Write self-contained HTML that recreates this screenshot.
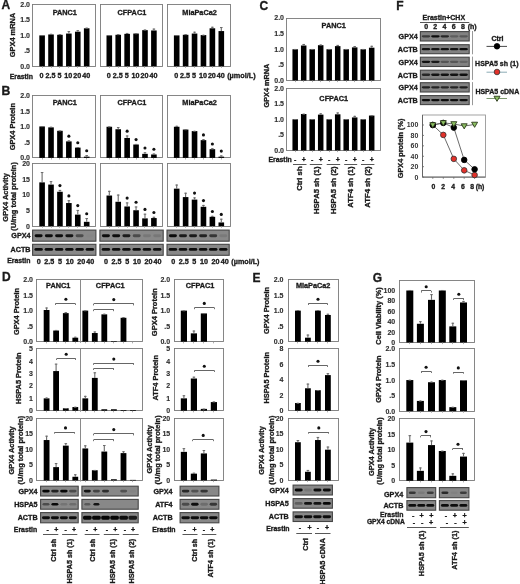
<!DOCTYPE html>
<html><head><meta charset="utf-8"><title>Figure</title>
<style>
html,body{margin:0;padding:0;background:#fff}
svg{display:block;filter:blur(0.35px);font-family:"Liberation Sans",Arial,Helvetica,sans-serif}
</style></head><body>
<svg width="520" height="584" viewBox="0 0 520 584">
<defs><filter id="bl" x="-20%" y="-50%" width="140%" height="200%"><feGaussianBlur stdDeviation="0.5"/></filter></defs>
<rect x="0" y="0" width="520" height="584" fill="#fff"/>
<text x="5.85" y="9.06" font-size="12" text-anchor="middle" fill="#1a1a1a" font-weight="bold" stroke="#1a1a1a" stroke-width="0.32">A</text>
<text transform="translate(12.3,35) rotate(-90)" x="0" y="2.63" font-size="7.4" text-anchor="middle" fill="#1a1a1a" font-weight="bold" stroke="#1a1a1a" stroke-width="0.32">GPX4 mRNA</text>
<text x="30" y="6.98" font-size="7" text-anchor="end" fill="#2e2e2e" font-weight="bold" stroke="#2e2e2e" stroke-width="0.12">2.0</text>
<text x="30" y="22.43" font-size="7" text-anchor="end" fill="#2e2e2e" font-weight="bold" stroke="#2e2e2e" stroke-width="0.12">1.5</text>
<text x="30" y="37.88" font-size="7" text-anchor="end" fill="#2e2e2e" font-weight="bold" stroke="#2e2e2e" stroke-width="0.12">1.0</text>
<text x="30" y="53.33" font-size="7" text-anchor="end" fill="#2e2e2e" font-weight="bold" stroke="#2e2e2e" stroke-width="0.12">.5</text>
<text x="30" y="68.78" font-size="7" text-anchor="end" fill="#2e2e2e" font-weight="bold" stroke="#2e2e2e" stroke-width="0.12">0.0</text>
<text x="33" y="78.65" font-size="6.9" text-anchor="end" fill="#1a1a1a" font-weight="bold" stroke="#1a1a1a" stroke-width="0.32">Erastin</text>
<rect x="32.5" y="4.5" width="63" height="62" fill="none" stroke="#7a7a7a" stroke-width="0.9"/>
<rect x="39.3" y="35.4" width="5.6" height="30.9" fill="#000"/>
<line x1="42.1" y1="35.09" x2="42.1" y2="35.4" stroke="#6a6a6a" stroke-width="1.1"/>
<line x1="40.8" y1="35.59" x2="43.4" y2="35.59" stroke="#6a6a6a" stroke-width="1"/>
<rect x="48.22" y="34.47" width="5.6" height="31.83" fill="#000"/>
<line x1="51.02" y1="33.85" x2="51.02" y2="34.47" stroke="#6a6a6a" stroke-width="1.1"/>
<line x1="49.72" y1="34.35" x2="52.32" y2="34.35" stroke="#6a6a6a" stroke-width="1"/>
<rect x="57.14" y="34.78" width="5.6" height="31.52" fill="#000"/>
<line x1="59.94" y1="34.16" x2="59.94" y2="34.78" stroke="#6a6a6a" stroke-width="1.1"/>
<line x1="58.64" y1="34.66" x2="61.24" y2="34.66" stroke="#6a6a6a" stroke-width="1"/>
<rect x="66.06" y="33.55" width="5.6" height="32.75" fill="#000"/>
<line x1="68.86" y1="31.07" x2="68.86" y2="33.55" stroke="#6a6a6a" stroke-width="1.1"/>
<line x1="67.56" y1="31.57" x2="70.16" y2="31.57" stroke="#6a6a6a" stroke-width="1"/>
<rect x="74.98" y="31.69" width="5.6" height="34.61" fill="#000"/>
<line x1="77.78" y1="30.15" x2="77.78" y2="31.69" stroke="#6a6a6a" stroke-width="1.1"/>
<line x1="76.48" y1="30.65" x2="79.08" y2="30.65" stroke="#6a6a6a" stroke-width="1"/>
<rect x="83.9" y="28.29" width="5.6" height="38.01" fill="#000"/>
<line x1="86.7" y1="27.67" x2="86.7" y2="28.29" stroke="#6a6a6a" stroke-width="1.1"/>
<line x1="85.4" y1="28.17" x2="88" y2="28.17" stroke="#6a6a6a" stroke-width="1"/>
<line x1="42.5" y1="66.3" x2="42.5" y2="67.9" stroke="#999" stroke-width="0.8"/>
<line x1="51.5" y1="66.3" x2="51.5" y2="67.9" stroke="#999" stroke-width="0.8"/>
<line x1="59.5" y1="66.3" x2="59.5" y2="67.9" stroke="#999" stroke-width="0.8"/>
<line x1="68.5" y1="66.3" x2="68.5" y2="67.9" stroke="#999" stroke-width="0.8"/>
<line x1="77.5" y1="66.3" x2="77.5" y2="67.9" stroke="#999" stroke-width="0.8"/>
<line x1="86.5" y1="66.3" x2="86.5" y2="67.9" stroke="#999" stroke-width="0.8"/>
<text x="64.75" y="14.79" font-size="7.3" text-anchor="middle" fill="#1a1a1a" font-weight="bold" stroke="#1a1a1a" stroke-width="0.32">PANC1</text>
<text x="41.6" y="78.46" font-size="7.2" text-anchor="middle" fill="#1a1a1a" font-weight="bold" stroke="#1a1a1a" stroke-width="0.32">0</text>
<text x="50.52" y="78.46" font-size="7.2" text-anchor="middle" fill="#1a1a1a" font-weight="bold" stroke="#1a1a1a" stroke-width="0.32">2.5</text>
<text x="59.44" y="78.46" font-size="7.2" text-anchor="middle" fill="#1a1a1a" font-weight="bold" stroke="#1a1a1a" stroke-width="0.32">5</text>
<text x="68.36" y="78.46" font-size="7.2" text-anchor="middle" fill="#1a1a1a" font-weight="bold" stroke="#1a1a1a" stroke-width="0.32">10</text>
<text x="77.28" y="78.46" font-size="7.2" text-anchor="middle" fill="#1a1a1a" font-weight="bold" stroke="#1a1a1a" stroke-width="0.32">20</text>
<text x="86.2" y="78.46" font-size="7.2" text-anchor="middle" fill="#1a1a1a" font-weight="bold" stroke="#1a1a1a" stroke-width="0.32">40</text>
<rect x="100.5" y="4.5" width="62" height="62" fill="none" stroke="#7a7a7a" stroke-width="0.9"/>
<rect x="106.5" y="35.4" width="5.6" height="30.9" fill="#000"/>
<line x1="109.3" y1="35.09" x2="109.3" y2="35.4" stroke="#6a6a6a" stroke-width="1.1"/>
<line x1="108" y1="35.59" x2="110.6" y2="35.59" stroke="#6a6a6a" stroke-width="1"/>
<rect x="115.42" y="34.78" width="5.6" height="31.52" fill="#000"/>
<line x1="118.22" y1="34.16" x2="118.22" y2="34.78" stroke="#6a6a6a" stroke-width="1.1"/>
<line x1="116.92" y1="34.66" x2="119.52" y2="34.66" stroke="#6a6a6a" stroke-width="1"/>
<rect x="124.34" y="33.85" width="5.6" height="32.45" fill="#000"/>
<line x1="127.14" y1="32.93" x2="127.14" y2="33.85" stroke="#6a6a6a" stroke-width="1.1"/>
<line x1="125.84" y1="33.43" x2="128.44" y2="33.43" stroke="#6a6a6a" stroke-width="1"/>
<rect x="133.26" y="33.55" width="5.6" height="32.75" fill="#000"/>
<line x1="136.06" y1="33.24" x2="136.06" y2="33.55" stroke="#6a6a6a" stroke-width="1.1"/>
<line x1="134.76" y1="33.74" x2="137.36" y2="33.74" stroke="#6a6a6a" stroke-width="1"/>
<rect x="142.18" y="30.15" width="5.6" height="36.15" fill="#000"/>
<line x1="144.98" y1="29.53" x2="144.98" y2="30.15" stroke="#6a6a6a" stroke-width="1.1"/>
<line x1="143.68" y1="30.03" x2="146.28" y2="30.03" stroke="#6a6a6a" stroke-width="1"/>
<rect x="151.1" y="30.46" width="5.6" height="35.84" fill="#000"/>
<line x1="153.9" y1="28.6" x2="153.9" y2="30.46" stroke="#6a6a6a" stroke-width="1.1"/>
<line x1="152.6" y1="29.1" x2="155.2" y2="29.1" stroke="#6a6a6a" stroke-width="1"/>
<line x1="109.5" y1="66.3" x2="109.5" y2="67.9" stroke="#999" stroke-width="0.8"/>
<line x1="118.5" y1="66.3" x2="118.5" y2="67.9" stroke="#999" stroke-width="0.8"/>
<line x1="127.5" y1="66.3" x2="127.5" y2="67.9" stroke="#999" stroke-width="0.8"/>
<line x1="136.5" y1="66.3" x2="136.5" y2="67.9" stroke="#999" stroke-width="0.8"/>
<line x1="144.5" y1="66.3" x2="144.5" y2="67.9" stroke="#999" stroke-width="0.8"/>
<line x1="153.5" y1="66.3" x2="153.5" y2="67.9" stroke="#999" stroke-width="0.8"/>
<text x="131.9" y="14.79" font-size="7.3" text-anchor="middle" fill="#1a1a1a" font-weight="bold" stroke="#1a1a1a" stroke-width="0.32">CFPAC1</text>
<text x="108.8" y="78.46" font-size="7.2" text-anchor="middle" fill="#1a1a1a" font-weight="bold" stroke="#1a1a1a" stroke-width="0.32">0</text>
<text x="117.72" y="78.46" font-size="7.2" text-anchor="middle" fill="#1a1a1a" font-weight="bold" stroke="#1a1a1a" stroke-width="0.32">2.5</text>
<text x="126.64" y="78.46" font-size="7.2" text-anchor="middle" fill="#1a1a1a" font-weight="bold" stroke="#1a1a1a" stroke-width="0.32">5</text>
<text x="135.56" y="78.46" font-size="7.2" text-anchor="middle" fill="#1a1a1a" font-weight="bold" stroke="#1a1a1a" stroke-width="0.32">10</text>
<text x="144.48" y="78.46" font-size="7.2" text-anchor="middle" fill="#1a1a1a" font-weight="bold" stroke="#1a1a1a" stroke-width="0.32">20</text>
<text x="153.4" y="78.46" font-size="7.2" text-anchor="middle" fill="#1a1a1a" font-weight="bold" stroke="#1a1a1a" stroke-width="0.32">40</text>
<rect x="167.5" y="4.5" width="63" height="62" fill="none" stroke="#7a7a7a" stroke-width="0.9"/>
<rect x="173.9" y="35.4" width="5.6" height="30.9" fill="#000"/>
<line x1="176.7" y1="35.09" x2="176.7" y2="35.4" stroke="#6a6a6a" stroke-width="1.1"/>
<line x1="175.4" y1="35.59" x2="178" y2="35.59" stroke="#6a6a6a" stroke-width="1"/>
<rect x="182.82" y="34.78" width="5.6" height="31.52" fill="#000"/>
<line x1="185.62" y1="34.16" x2="185.62" y2="34.78" stroke="#6a6a6a" stroke-width="1.1"/>
<line x1="184.32" y1="34.66" x2="186.92" y2="34.66" stroke="#6a6a6a" stroke-width="1"/>
<rect x="191.74" y="33.55" width="5.6" height="32.75" fill="#000"/>
<line x1="194.54" y1="31.69" x2="194.54" y2="33.55" stroke="#6a6a6a" stroke-width="1.1"/>
<line x1="193.24" y1="32.19" x2="195.84" y2="32.19" stroke="#6a6a6a" stroke-width="1"/>
<rect x="200.66" y="35.09" width="5.6" height="31.21" fill="#000"/>
<line x1="203.46" y1="34.78" x2="203.46" y2="35.09" stroke="#6a6a6a" stroke-width="1.1"/>
<line x1="202.16" y1="35.28" x2="204.76" y2="35.28" stroke="#6a6a6a" stroke-width="1"/>
<rect x="209.58" y="28.29" width="5.6" height="38.01" fill="#000"/>
<line x1="212.38" y1="26.75" x2="212.38" y2="28.29" stroke="#6a6a6a" stroke-width="1.1"/>
<line x1="211.08" y1="27.25" x2="213.68" y2="27.25" stroke="#6a6a6a" stroke-width="1"/>
<rect x="218.5" y="31.07" width="5.6" height="35.23" fill="#000"/>
<line x1="221.3" y1="27.06" x2="221.3" y2="31.07" stroke="#6a6a6a" stroke-width="1.1"/>
<line x1="220" y1="27.56" x2="222.6" y2="27.56" stroke="#6a6a6a" stroke-width="1"/>
<line x1="176.5" y1="66.3" x2="176.5" y2="67.9" stroke="#999" stroke-width="0.8"/>
<line x1="185.5" y1="66.3" x2="185.5" y2="67.9" stroke="#999" stroke-width="0.8"/>
<line x1="194.5" y1="66.3" x2="194.5" y2="67.9" stroke="#999" stroke-width="0.8"/>
<line x1="203.5" y1="66.3" x2="203.5" y2="67.9" stroke="#999" stroke-width="0.8"/>
<line x1="212.5" y1="66.3" x2="212.5" y2="67.9" stroke="#999" stroke-width="0.8"/>
<line x1="221.5" y1="66.3" x2="221.5" y2="67.9" stroke="#999" stroke-width="0.8"/>
<text x="199.55" y="14.79" font-size="7.3" text-anchor="middle" fill="#1a1a1a" font-weight="bold" stroke="#1a1a1a" stroke-width="0.32">MiaPaCa2</text>
<text x="176.2" y="78.46" font-size="7.2" text-anchor="middle" fill="#1a1a1a" font-weight="bold" stroke="#1a1a1a" stroke-width="0.32">0</text>
<text x="185.12" y="78.46" font-size="7.2" text-anchor="middle" fill="#1a1a1a" font-weight="bold" stroke="#1a1a1a" stroke-width="0.32">2.5</text>
<text x="194.04" y="78.46" font-size="7.2" text-anchor="middle" fill="#1a1a1a" font-weight="bold" stroke="#1a1a1a" stroke-width="0.32">5</text>
<text x="202.96" y="78.46" font-size="7.2" text-anchor="middle" fill="#1a1a1a" font-weight="bold" stroke="#1a1a1a" stroke-width="0.32">10</text>
<text x="211.88" y="78.46" font-size="7.2" text-anchor="middle" fill="#1a1a1a" font-weight="bold" stroke="#1a1a1a" stroke-width="0.32">20</text>
<text x="220.8" y="78.46" font-size="7.2" text-anchor="middle" fill="#1a1a1a" font-weight="bold" stroke="#1a1a1a" stroke-width="0.32">40</text>
<text x="241.4" y="78.49" font-size="7.3" text-anchor="middle" fill="#1a1a1a" font-weight="bold" stroke="#1a1a1a" stroke-width="0.32">(&micro;mol/L)</text>
<text x="5.85" y="95.13" font-size="12.2" text-anchor="middle" fill="#1a1a1a" font-weight="bold" stroke="#1a1a1a" stroke-width="0.32">B</text>
<text transform="translate(12.3,126.7) rotate(-90)" x="0" y="2.63" font-size="7.4" text-anchor="middle" fill="#1a1a1a" font-weight="bold" stroke="#1a1a1a" stroke-width="0.32">GPX4 Protein</text>
<text transform="translate(4.9,197.4) rotate(-90)" x="0" y="2.64" font-size="7.45" text-anchor="middle" fill="#1a1a1a" font-weight="bold" stroke="#1a1a1a" stroke-width="0.32">GPX4 Activity</text>
<text transform="translate(13,196.4) rotate(-90)" x="0" y="2.64" font-size="7.45" text-anchor="middle" fill="#1a1a1a" font-weight="bold" stroke="#1a1a1a" stroke-width="0.32">(U/mg total protein)</text>
<text x="30" y="98.08" font-size="7" text-anchor="end" fill="#2e2e2e" font-weight="bold" stroke="#2e2e2e" stroke-width="0.12">2.0</text>
<text x="30" y="113.66" font-size="7" text-anchor="end" fill="#2e2e2e" font-weight="bold" stroke="#2e2e2e" stroke-width="0.12">1.5</text>
<text x="30" y="129.24" font-size="7" text-anchor="end" fill="#2e2e2e" font-weight="bold" stroke="#2e2e2e" stroke-width="0.12">1.0</text>
<text x="30" y="144.81" font-size="7" text-anchor="end" fill="#2e2e2e" font-weight="bold" stroke="#2e2e2e" stroke-width="0.12">.5</text>
<text x="30" y="160.39" font-size="7" text-anchor="end" fill="#2e2e2e" font-weight="bold" stroke="#2e2e2e" stroke-width="0.12">0.0</text>
<text x="30" y="166.09" font-size="7" text-anchor="end" fill="#2e2e2e" font-weight="bold" stroke="#2e2e2e" stroke-width="0.12">20</text>
<text x="30" y="181.74" font-size="7" text-anchor="end" fill="#2e2e2e" font-weight="bold" stroke="#2e2e2e" stroke-width="0.12">15</text>
<text x="30" y="197.38" font-size="7" text-anchor="end" fill="#2e2e2e" font-weight="bold" stroke="#2e2e2e" stroke-width="0.12">10</text>
<text x="30" y="213.03" font-size="7" text-anchor="end" fill="#2e2e2e" font-weight="bold" stroke="#2e2e2e" stroke-width="0.12">5</text>
<text x="30" y="228.69" font-size="7" text-anchor="end" fill="#2e2e2e" font-weight="bold" stroke="#2e2e2e" stroke-width="0.12">0</text>
<text x="30.5" y="238.26" font-size="7.2" text-anchor="end" fill="#1a1a1a" font-weight="bold" stroke="#1a1a1a" stroke-width="0.32">GPX4</text>
<text x="30.5" y="252.36" font-size="7.2" text-anchor="end" fill="#1a1a1a" font-weight="bold" stroke="#1a1a1a" stroke-width="0.32">ACTB</text>
<text x="30.5" y="263.25" font-size="6.9" text-anchor="end" fill="#1a1a1a" font-weight="bold" stroke="#1a1a1a" stroke-width="0.32">Erastin</text>
<rect x="32.5" y="95.5" width="63" height="62" fill="none" stroke="#7a7a7a" stroke-width="0.9"/>
<rect x="32.5" y="163.5" width="63" height="63" fill="none" stroke="#7a7a7a" stroke-width="0.9"/>
<rect x="39.3" y="126.44" width="5.6" height="31.46" fill="#000"/>
<line x1="42.1" y1="126.13" x2="42.1" y2="126.44" stroke="#6a6a6a" stroke-width="1.1"/>
<line x1="40.8" y1="126.63" x2="43.4" y2="126.63" stroke="#6a6a6a" stroke-width="1"/>
<rect x="48.22" y="127.37" width="5.6" height="30.53" fill="#000"/>
<line x1="51.02" y1="126.75" x2="51.02" y2="127.37" stroke="#6a6a6a" stroke-width="1.1"/>
<line x1="49.72" y1="127.25" x2="52.32" y2="127.25" stroke="#6a6a6a" stroke-width="1"/>
<rect x="57.14" y="130.8" width="5.6" height="27.1" fill="#000"/>
<line x1="59.94" y1="130.49" x2="59.94" y2="130.8" stroke="#6a6a6a" stroke-width="1.1"/>
<line x1="58.64" y1="130.99" x2="61.24" y2="130.99" stroke="#6a6a6a" stroke-width="1"/>
<rect x="66.06" y="141.39" width="5.6" height="16.51" fill="#000"/>
<line x1="68.86" y1="140.46" x2="68.86" y2="141.39" stroke="#6a6a6a" stroke-width="1.1"/>
<line x1="67.56" y1="140.96" x2="70.16" y2="140.96" stroke="#6a6a6a" stroke-width="1"/>
<circle cx="68.86" cy="136.16" r="1.55" fill="#111"/>
<rect x="74.98" y="147.62" width="5.6" height="10.28" fill="#000"/>
<line x1="77.78" y1="147" x2="77.78" y2="147.62" stroke="#6a6a6a" stroke-width="1.1"/>
<line x1="76.48" y1="147.5" x2="79.08" y2="147.5" stroke="#6a6a6a" stroke-width="1"/>
<circle cx="77.78" cy="142.7" r="1.55" fill="#111"/>
<rect x="83.9" y="156.65" width="5.6" height="1.25" fill="#000"/>
<line x1="86.7" y1="155.1" x2="86.7" y2="156.65" stroke="#6a6a6a" stroke-width="1.1"/>
<line x1="85.4" y1="155.6" x2="88" y2="155.6" stroke="#6a6a6a" stroke-width="1"/>
<circle cx="86.7" cy="150.8" r="1.55" fill="#111"/>
<line x1="42.5" y1="157.9" x2="42.5" y2="159.5" stroke="#999" stroke-width="0.8"/>
<line x1="51.5" y1="157.9" x2="51.5" y2="159.5" stroke="#999" stroke-width="0.8"/>
<line x1="59.5" y1="157.9" x2="59.5" y2="159.5" stroke="#999" stroke-width="0.8"/>
<line x1="68.5" y1="157.9" x2="68.5" y2="159.5" stroke="#999" stroke-width="0.8"/>
<line x1="77.5" y1="157.9" x2="77.5" y2="159.5" stroke="#999" stroke-width="0.8"/>
<line x1="86.5" y1="157.9" x2="86.5" y2="159.5" stroke="#999" stroke-width="0.8"/>
<rect x="39.3" y="182.38" width="5.6" height="43.82" fill="#000"/>
<line x1="42.1" y1="172.05" x2="42.1" y2="182.38" stroke="#6a6a6a" stroke-width="1.1"/>
<line x1="40.8" y1="172.55" x2="43.4" y2="172.55" stroke="#6a6a6a" stroke-width="1"/>
<rect x="48.22" y="184.57" width="5.6" height="41.63" fill="#000"/>
<line x1="51.02" y1="181.13" x2="51.02" y2="184.57" stroke="#6a6a6a" stroke-width="1.1"/>
<line x1="49.72" y1="181.63" x2="52.32" y2="181.63" stroke="#6a6a6a" stroke-width="1"/>
<rect x="57.14" y="191.77" width="5.6" height="34.43" fill="#000"/>
<line x1="59.94" y1="189.89" x2="59.94" y2="191.77" stroke="#6a6a6a" stroke-width="1.1"/>
<line x1="58.64" y1="190.39" x2="61.24" y2="190.39" stroke="#6a6a6a" stroke-width="1"/>
<circle cx="59.94" cy="185.59" r="1.55" fill="#111"/>
<rect x="66.06" y="203.04" width="5.6" height="23.16" fill="#000"/>
<line x1="68.86" y1="200.22" x2="68.86" y2="203.04" stroke="#6a6a6a" stroke-width="1.1"/>
<line x1="67.56" y1="200.72" x2="70.16" y2="200.72" stroke="#6a6a6a" stroke-width="1"/>
<circle cx="68.86" cy="195.92" r="1.55" fill="#111"/>
<rect x="74.98" y="214.62" width="5.6" height="11.58" fill="#000"/>
<line x1="77.78" y1="209.92" x2="77.78" y2="214.62" stroke="#6a6a6a" stroke-width="1.1"/>
<line x1="76.48" y1="210.42" x2="79.08" y2="210.42" stroke="#6a6a6a" stroke-width="1"/>
<circle cx="77.78" cy="205.62" r="1.55" fill="#111"/>
<rect x="83.9" y="221.82" width="5.6" height="4.38" fill="#000"/>
<line x1="86.7" y1="218.06" x2="86.7" y2="221.82" stroke="#6a6a6a" stroke-width="1.1"/>
<line x1="85.4" y1="218.56" x2="88" y2="218.56" stroke="#6a6a6a" stroke-width="1"/>
<circle cx="86.7" cy="213.76" r="1.55" fill="#111"/>
<line x1="42.5" y1="226.2" x2="42.5" y2="227.8" stroke="#999" stroke-width="0.8"/>
<line x1="51.5" y1="226.2" x2="51.5" y2="227.8" stroke="#999" stroke-width="0.8"/>
<line x1="59.5" y1="226.2" x2="59.5" y2="227.8" stroke="#999" stroke-width="0.8"/>
<line x1="68.5" y1="226.2" x2="68.5" y2="227.8" stroke="#999" stroke-width="0.8"/>
<line x1="77.5" y1="226.2" x2="77.5" y2="227.8" stroke="#999" stroke-width="0.8"/>
<line x1="86.5" y1="226.2" x2="86.5" y2="227.8" stroke="#999" stroke-width="0.8"/>
<text x="64.75" y="105.39" font-size="7.3" text-anchor="middle" fill="#1a1a1a" font-weight="bold" stroke="#1a1a1a" stroke-width="0.32">PANC1</text>
<rect x="32.6" y="230.1" width="63.3" height="11.1" fill="#888888" stroke="#454545" stroke-width="1.1"/>
<g filter="url(#bl)"><rect x="34.62" y="234.35" width="8" height="2.9" rx="1.6" ry="1.45" fill="#050505" fill-opacity="0.92"/><rect x="44.88" y="234.35" width="8" height="2.9" rx="1.6" ry="1.45" fill="#050505" fill-opacity="0.9"/><rect x="55.12" y="234.35" width="8" height="2.9" rx="1.6" ry="1.45" fill="#050505" fill-opacity="0.9"/><rect x="65.38" y="234.35" width="8" height="2.9" rx="1.6" ry="1.45" fill="#050505" fill-opacity="0.85"/><rect x="75.62" y="234.35" width="8" height="2.9" rx="1.6" ry="1.45" fill="#050505" fill-opacity="0.45"/><rect x="85.88" y="234.35" width="8" height="2.9" rx="1.6" ry="1.45" fill="#050505" fill-opacity="0.02"/></g>
<rect x="32.6" y="244.3" width="63.3" height="11" fill="#888888" stroke="#454545" stroke-width="1.1"/>
<g filter="url(#bl)"><rect x="34.38" y="247.95" width="8.5" height="2.9" rx="1.6" ry="1.45" fill="#050505" fill-opacity="0.9"/><rect x="44.62" y="247.95" width="8.5" height="2.9" rx="1.6" ry="1.45" fill="#050505" fill-opacity="0.9"/><rect x="54.88" y="247.95" width="8.5" height="2.9" rx="1.6" ry="1.45" fill="#050505" fill-opacity="0.9"/><rect x="65.12" y="247.95" width="8.5" height="2.9" rx="1.6" ry="1.45" fill="#050505" fill-opacity="0.9"/><rect x="75.38" y="247.95" width="8.5" height="2.9" rx="1.6" ry="1.45" fill="#050505" fill-opacity="0.9"/><rect x="85.62" y="247.95" width="8.5" height="2.9" rx="1.6" ry="1.45" fill="#050505" fill-opacity="0.9"/></g>
<text x="38.8" y="263.56" font-size="7.2" text-anchor="middle" fill="#1a1a1a" font-weight="bold" stroke="#1a1a1a" stroke-width="0.32">0</text>
<text x="49.3" y="263.56" font-size="7.2" text-anchor="middle" fill="#1a1a1a" font-weight="bold" stroke="#1a1a1a" stroke-width="0.32">2.5</text>
<text x="59.9" y="263.56" font-size="7.2" text-anchor="middle" fill="#1a1a1a" font-weight="bold" stroke="#1a1a1a" stroke-width="0.32">5</text>
<text x="69.7" y="263.56" font-size="7.2" text-anchor="middle" fill="#1a1a1a" font-weight="bold" stroke="#1a1a1a" stroke-width="0.32">10</text>
<text x="81.2" y="263.56" font-size="7.2" text-anchor="middle" fill="#1a1a1a" font-weight="bold" stroke="#1a1a1a" stroke-width="0.32">20</text>
<text x="90.3" y="263.56" font-size="7.2" text-anchor="middle" fill="#1a1a1a" font-weight="bold" stroke="#1a1a1a" stroke-width="0.32">40</text>
<rect x="100.5" y="95.5" width="62" height="62" fill="none" stroke="#7a7a7a" stroke-width="0.9"/>
<rect x="100.5" y="163.5" width="62" height="63" fill="none" stroke="#7a7a7a" stroke-width="0.9"/>
<rect x="106.5" y="126.75" width="5.6" height="31.15" fill="#000"/>
<line x1="109.3" y1="126.44" x2="109.3" y2="126.75" stroke="#6a6a6a" stroke-width="1.1"/>
<line x1="108" y1="126.94" x2="110.6" y2="126.94" stroke="#6a6a6a" stroke-width="1"/>
<rect x="115.42" y="129.24" width="5.6" height="28.66" fill="#000"/>
<line x1="118.22" y1="127.06" x2="118.22" y2="129.24" stroke="#6a6a6a" stroke-width="1.1"/>
<line x1="116.92" y1="127.56" x2="119.52" y2="127.56" stroke="#6a6a6a" stroke-width="1"/>
<rect x="124.34" y="137.96" width="5.6" height="19.94" fill="#000"/>
<line x1="127.14" y1="135.47" x2="127.14" y2="137.96" stroke="#6a6a6a" stroke-width="1.1"/>
<line x1="125.84" y1="135.97" x2="128.44" y2="135.97" stroke="#6a6a6a" stroke-width="1"/>
<circle cx="127.14" cy="131.17" r="1.55" fill="#111"/>
<rect x="133.26" y="144.51" width="5.6" height="13.39" fill="#000"/>
<line x1="136.06" y1="143.88" x2="136.06" y2="144.51" stroke="#6a6a6a" stroke-width="1.1"/>
<line x1="134.76" y1="144.38" x2="137.36" y2="144.38" stroke="#6a6a6a" stroke-width="1"/>
<circle cx="136.06" cy="139.58" r="1.55" fill="#111"/>
<rect x="142.18" y="153.85" width="5.6" height="4.05" fill="#000"/>
<line x1="144.98" y1="152.29" x2="144.98" y2="153.85" stroke="#6a6a6a" stroke-width="1.1"/>
<line x1="143.68" y1="152.79" x2="146.28" y2="152.79" stroke="#6a6a6a" stroke-width="1"/>
<circle cx="144.98" cy="147.99" r="1.55" fill="#111"/>
<rect x="151.1" y="154.47" width="5.6" height="3.43" fill="#000"/>
<line x1="153.9" y1="153.54" x2="153.9" y2="154.47" stroke="#6a6a6a" stroke-width="1.1"/>
<line x1="152.6" y1="154.04" x2="155.2" y2="154.04" stroke="#6a6a6a" stroke-width="1"/>
<circle cx="153.9" cy="149.24" r="1.55" fill="#111"/>
<line x1="109.5" y1="157.9" x2="109.5" y2="159.5" stroke="#999" stroke-width="0.8"/>
<line x1="118.5" y1="157.9" x2="118.5" y2="159.5" stroke="#999" stroke-width="0.8"/>
<line x1="127.5" y1="157.9" x2="127.5" y2="159.5" stroke="#999" stroke-width="0.8"/>
<line x1="136.5" y1="157.9" x2="136.5" y2="159.5" stroke="#999" stroke-width="0.8"/>
<line x1="144.5" y1="157.9" x2="144.5" y2="159.5" stroke="#999" stroke-width="0.8"/>
<line x1="153.5" y1="157.9" x2="153.5" y2="159.5" stroke="#999" stroke-width="0.8"/>
<rect x="106.5" y="195.53" width="5.6" height="30.67" fill="#000"/>
<line x1="109.3" y1="190.83" x2="109.3" y2="195.53" stroke="#6a6a6a" stroke-width="1.1"/>
<line x1="108" y1="191.33" x2="110.6" y2="191.33" stroke="#6a6a6a" stroke-width="1"/>
<rect x="115.42" y="201.79" width="5.6" height="24.41" fill="#000"/>
<line x1="118.22" y1="194.59" x2="118.22" y2="201.79" stroke="#6a6a6a" stroke-width="1.1"/>
<line x1="116.92" y1="195.09" x2="119.52" y2="195.09" stroke="#6a6a6a" stroke-width="1"/>
<rect x="124.34" y="206.48" width="5.6" height="19.72" fill="#000"/>
<line x1="127.14" y1="202.41" x2="127.14" y2="206.48" stroke="#6a6a6a" stroke-width="1.1"/>
<line x1="125.84" y1="202.91" x2="128.44" y2="202.91" stroke="#6a6a6a" stroke-width="1"/>
<circle cx="127.14" cy="198.11" r="1.55" fill="#111"/>
<rect x="133.26" y="210.24" width="5.6" height="15.96" fill="#000"/>
<line x1="136.06" y1="206.48" x2="136.06" y2="210.24" stroke="#6a6a6a" stroke-width="1.1"/>
<line x1="134.76" y1="206.98" x2="137.36" y2="206.98" stroke="#6a6a6a" stroke-width="1"/>
<circle cx="136.06" cy="202.18" r="1.55" fill="#111"/>
<rect x="142.18" y="218.38" width="5.6" height="7.82" fill="#000"/>
<line x1="144.98" y1="213.68" x2="144.98" y2="218.38" stroke="#6a6a6a" stroke-width="1.1"/>
<line x1="143.68" y1="214.18" x2="146.28" y2="214.18" stroke="#6a6a6a" stroke-width="1"/>
<circle cx="144.98" cy="209.38" r="1.55" fill="#111"/>
<rect x="151.1" y="218.06" width="5.6" height="8.14" fill="#000"/>
<line x1="153.9" y1="216.81" x2="153.9" y2="218.06" stroke="#6a6a6a" stroke-width="1.1"/>
<line x1="152.6" y1="217.31" x2="155.2" y2="217.31" stroke="#6a6a6a" stroke-width="1"/>
<circle cx="153.9" cy="212.51" r="1.55" fill="#111"/>
<line x1="109.5" y1="226.2" x2="109.5" y2="227.8" stroke="#999" stroke-width="0.8"/>
<line x1="118.5" y1="226.2" x2="118.5" y2="227.8" stroke="#999" stroke-width="0.8"/>
<line x1="127.5" y1="226.2" x2="127.5" y2="227.8" stroke="#999" stroke-width="0.8"/>
<line x1="136.5" y1="226.2" x2="136.5" y2="227.8" stroke="#999" stroke-width="0.8"/>
<line x1="144.5" y1="226.2" x2="144.5" y2="227.8" stroke="#999" stroke-width="0.8"/>
<line x1="153.5" y1="226.2" x2="153.5" y2="227.8" stroke="#999" stroke-width="0.8"/>
<text x="131.9" y="105.39" font-size="7.3" text-anchor="middle" fill="#1a1a1a" font-weight="bold" stroke="#1a1a1a" stroke-width="0.32">CFPAC1</text>
<rect x="99.9" y="230.1" width="63.3" height="11.1" fill="#888888" stroke="#454545" stroke-width="1.1"/>
<g filter="url(#bl)"><rect x="101.92" y="234.35" width="8" height="2.9" rx="1.6" ry="1.45" fill="#050505" fill-opacity="0.9"/><rect x="112.17" y="234.35" width="8" height="2.9" rx="1.6" ry="1.45" fill="#050505" fill-opacity="0.9"/><rect x="122.42" y="234.35" width="8" height="2.9" rx="1.6" ry="1.45" fill="#050505" fill-opacity="0.8"/><rect x="132.68" y="234.35" width="8" height="2.9" rx="1.6" ry="1.45" fill="#050505" fill-opacity="0.45"/><rect x="142.93" y="234.35" width="8" height="2.9" rx="1.6" ry="1.45" fill="#050505" fill-opacity="0.12"/><rect x="153.18" y="234.35" width="8" height="2.9" rx="1.6" ry="1.45" fill="#050505" fill-opacity="0.12"/></g>
<rect x="99.9" y="244.3" width="63.3" height="11" fill="#888888" stroke="#454545" stroke-width="1.1"/>
<g filter="url(#bl)"><rect x="101.67" y="247.95" width="8.5" height="2.9" rx="1.6" ry="1.45" fill="#050505" fill-opacity="0.9"/><rect x="111.92" y="247.95" width="8.5" height="2.9" rx="1.6" ry="1.45" fill="#050505" fill-opacity="0.9"/><rect x="122.17" y="247.95" width="8.5" height="2.9" rx="1.6" ry="1.45" fill="#050505" fill-opacity="0.9"/><rect x="132.43" y="247.95" width="8.5" height="2.9" rx="1.6" ry="1.45" fill="#050505" fill-opacity="0.9"/><rect x="142.68" y="247.95" width="8.5" height="2.9" rx="1.6" ry="1.45" fill="#050505" fill-opacity="0.9"/><rect x="152.93" y="247.95" width="8.5" height="2.9" rx="1.6" ry="1.45" fill="#050505" fill-opacity="0.9"/></g>
<text x="106.1" y="263.56" font-size="7.2" text-anchor="middle" fill="#1a1a1a" font-weight="bold" stroke="#1a1a1a" stroke-width="0.32">0</text>
<text x="116.6" y="263.56" font-size="7.2" text-anchor="middle" fill="#1a1a1a" font-weight="bold" stroke="#1a1a1a" stroke-width="0.32">2.5</text>
<text x="127.2" y="263.56" font-size="7.2" text-anchor="middle" fill="#1a1a1a" font-weight="bold" stroke="#1a1a1a" stroke-width="0.32">5</text>
<text x="137" y="263.56" font-size="7.2" text-anchor="middle" fill="#1a1a1a" font-weight="bold" stroke="#1a1a1a" stroke-width="0.32">10</text>
<text x="148.5" y="263.56" font-size="7.2" text-anchor="middle" fill="#1a1a1a" font-weight="bold" stroke="#1a1a1a" stroke-width="0.32">20</text>
<text x="157.6" y="263.56" font-size="7.2" text-anchor="middle" fill="#1a1a1a" font-weight="bold" stroke="#1a1a1a" stroke-width="0.32">40</text>
<rect x="167.5" y="95.5" width="63" height="62" fill="none" stroke="#7a7a7a" stroke-width="0.9"/>
<rect x="167.5" y="163.5" width="63" height="63" fill="none" stroke="#7a7a7a" stroke-width="0.9"/>
<rect x="173.9" y="126.75" width="5.6" height="31.15" fill="#000"/>
<line x1="176.7" y1="125.82" x2="176.7" y2="126.75" stroke="#6a6a6a" stroke-width="1.1"/>
<line x1="175.4" y1="126.32" x2="178" y2="126.32" stroke="#6a6a6a" stroke-width="1"/>
<rect x="182.82" y="129.55" width="5.6" height="28.35" fill="#000"/>
<line x1="185.62" y1="129.24" x2="185.62" y2="129.55" stroke="#6a6a6a" stroke-width="1.1"/>
<line x1="184.32" y1="129.74" x2="186.92" y2="129.74" stroke="#6a6a6a" stroke-width="1"/>
<rect x="191.74" y="131.11" width="5.6" height="26.79" fill="#000"/>
<line x1="194.54" y1="130.8" x2="194.54" y2="131.11" stroke="#6a6a6a" stroke-width="1.1"/>
<line x1="193.24" y1="131.3" x2="195.84" y2="131.3" stroke="#6a6a6a" stroke-width="1"/>
<rect x="200.66" y="140.14" width="5.6" height="17.76" fill="#000"/>
<line x1="203.46" y1="139.21" x2="203.46" y2="140.14" stroke="#6a6a6a" stroke-width="1.1"/>
<line x1="202.16" y1="139.71" x2="204.76" y2="139.71" stroke="#6a6a6a" stroke-width="1"/>
<circle cx="203.46" cy="134.91" r="1.55" fill="#111"/>
<rect x="209.58" y="149.18" width="5.6" height="8.72" fill="#000"/>
<line x1="212.38" y1="148.24" x2="212.38" y2="149.18" stroke="#6a6a6a" stroke-width="1.1"/>
<line x1="211.08" y1="148.74" x2="213.68" y2="148.74" stroke="#6a6a6a" stroke-width="1"/>
<circle cx="212.38" cy="143.94" r="1.55" fill="#111"/>
<rect x="218.5" y="156.65" width="5.6" height="1.25" fill="#000"/>
<line x1="221.3" y1="155.41" x2="221.3" y2="156.65" stroke="#6a6a6a" stroke-width="1.1"/>
<line x1="220" y1="155.91" x2="222.6" y2="155.91" stroke="#6a6a6a" stroke-width="1"/>
<circle cx="221.3" cy="151.11" r="1.55" fill="#111"/>
<line x1="176.5" y1="157.9" x2="176.5" y2="159.5" stroke="#999" stroke-width="0.8"/>
<line x1="185.5" y1="157.9" x2="185.5" y2="159.5" stroke="#999" stroke-width="0.8"/>
<line x1="194.5" y1="157.9" x2="194.5" y2="159.5" stroke="#999" stroke-width="0.8"/>
<line x1="203.5" y1="157.9" x2="203.5" y2="159.5" stroke="#999" stroke-width="0.8"/>
<line x1="212.5" y1="157.9" x2="212.5" y2="159.5" stroke="#999" stroke-width="0.8"/>
<line x1="221.5" y1="157.9" x2="221.5" y2="159.5" stroke="#999" stroke-width="0.8"/>
<rect x="173.9" y="188.64" width="5.6" height="37.56" fill="#000"/>
<line x1="176.7" y1="184.57" x2="176.7" y2="188.64" stroke="#6a6a6a" stroke-width="1.1"/>
<line x1="175.4" y1="185.07" x2="178" y2="185.07" stroke="#6a6a6a" stroke-width="1"/>
<rect x="182.82" y="197.09" width="5.6" height="29.11" fill="#000"/>
<line x1="185.62" y1="192.71" x2="185.62" y2="197.09" stroke="#6a6a6a" stroke-width="1.1"/>
<line x1="184.32" y1="193.21" x2="186.92" y2="193.21" stroke="#6a6a6a" stroke-width="1"/>
<rect x="191.74" y="199.59" width="5.6" height="26.6" fill="#000"/>
<line x1="194.54" y1="197.4" x2="194.54" y2="199.59" stroke="#6a6a6a" stroke-width="1.1"/>
<line x1="193.24" y1="197.9" x2="195.84" y2="197.9" stroke="#6a6a6a" stroke-width="1"/>
<circle cx="194.54" cy="193.1" r="1.55" fill="#111"/>
<rect x="200.66" y="206.79" width="5.6" height="19.41" fill="#000"/>
<line x1="203.46" y1="204.92" x2="203.46" y2="206.79" stroke="#6a6a6a" stroke-width="1.1"/>
<line x1="202.16" y1="205.42" x2="204.76" y2="205.42" stroke="#6a6a6a" stroke-width="1"/>
<circle cx="203.46" cy="200.62" r="1.55" fill="#111"/>
<rect x="209.58" y="216.81" width="5.6" height="9.39" fill="#000"/>
<line x1="212.38" y1="215.87" x2="212.38" y2="216.81" stroke="#6a6a6a" stroke-width="1.1"/>
<line x1="211.08" y1="216.37" x2="213.68" y2="216.37" stroke="#6a6a6a" stroke-width="1"/>
<circle cx="212.38" cy="211.57" r="1.55" fill="#111"/>
<rect x="218.5" y="222.44" width="5.6" height="3.76" fill="#000"/>
<line x1="221.3" y1="218.69" x2="221.3" y2="222.44" stroke="#6a6a6a" stroke-width="1.1"/>
<line x1="220" y1="219.19" x2="222.6" y2="219.19" stroke="#6a6a6a" stroke-width="1"/>
<circle cx="221.3" cy="214.39" r="1.55" fill="#111"/>
<line x1="176.5" y1="226.2" x2="176.5" y2="227.8" stroke="#999" stroke-width="0.8"/>
<line x1="185.5" y1="226.2" x2="185.5" y2="227.8" stroke="#999" stroke-width="0.8"/>
<line x1="194.5" y1="226.2" x2="194.5" y2="227.8" stroke="#999" stroke-width="0.8"/>
<line x1="203.5" y1="226.2" x2="203.5" y2="227.8" stroke="#999" stroke-width="0.8"/>
<line x1="212.5" y1="226.2" x2="212.5" y2="227.8" stroke="#999" stroke-width="0.8"/>
<line x1="221.5" y1="226.2" x2="221.5" y2="227.8" stroke="#999" stroke-width="0.8"/>
<text x="199.55" y="105.39" font-size="7.3" text-anchor="middle" fill="#1a1a1a" font-weight="bold" stroke="#1a1a1a" stroke-width="0.32">MiaPaCa2</text>
<rect x="167" y="230.1" width="62.2" height="11.1" fill="#888888" stroke="#454545" stroke-width="1.1"/>
<g filter="url(#bl)"><rect x="168.93" y="234.35" width="8" height="2.9" rx="1.6" ry="1.45" fill="#050505" fill-opacity="0.92"/><rect x="179" y="234.35" width="8" height="2.9" rx="1.6" ry="1.45" fill="#050505" fill-opacity="0.8"/><rect x="189.07" y="234.35" width="8" height="2.9" rx="1.6" ry="1.45" fill="#050505" fill-opacity="0.8"/><rect x="199.13" y="234.35" width="8" height="2.9" rx="1.6" ry="1.45" fill="#050505" fill-opacity="0.75"/><rect x="209.2" y="234.35" width="8" height="2.9" rx="1.6" ry="1.45" fill="#050505" fill-opacity="0.6"/><rect x="219.27" y="234.35" width="8" height="2.9" rx="1.6" ry="1.45" fill="#050505" fill-opacity="0.1"/></g>
<rect x="167" y="244.3" width="62.2" height="11" fill="#888888" stroke="#454545" stroke-width="1.1"/>
<g filter="url(#bl)"><rect x="168.68" y="247.95" width="8.5" height="2.9" rx="1.6" ry="1.45" fill="#050505" fill-opacity="0.9"/><rect x="178.75" y="247.95" width="8.5" height="2.9" rx="1.6" ry="1.45" fill="#050505" fill-opacity="0.9"/><rect x="188.82" y="247.95" width="8.5" height="2.9" rx="1.6" ry="1.45" fill="#050505" fill-opacity="0.9"/><rect x="198.88" y="247.95" width="8.5" height="2.9" rx="1.6" ry="1.45" fill="#050505" fill-opacity="0.9"/><rect x="208.95" y="247.95" width="8.5" height="2.9" rx="1.6" ry="1.45" fill="#050505" fill-opacity="0.9"/><rect x="219.02" y="247.95" width="8.5" height="2.9" rx="1.6" ry="1.45" fill="#050505" fill-opacity="0.9"/></g>
<text x="173.2" y="263.56" font-size="7.2" text-anchor="middle" fill="#1a1a1a" font-weight="bold" stroke="#1a1a1a" stroke-width="0.32">0</text>
<text x="183.7" y="263.56" font-size="7.2" text-anchor="middle" fill="#1a1a1a" font-weight="bold" stroke="#1a1a1a" stroke-width="0.32">2.5</text>
<text x="194.3" y="263.56" font-size="7.2" text-anchor="middle" fill="#1a1a1a" font-weight="bold" stroke="#1a1a1a" stroke-width="0.32">5</text>
<text x="204.1" y="263.56" font-size="7.2" text-anchor="middle" fill="#1a1a1a" font-weight="bold" stroke="#1a1a1a" stroke-width="0.32">10</text>
<text x="215.6" y="263.56" font-size="7.2" text-anchor="middle" fill="#1a1a1a" font-weight="bold" stroke="#1a1a1a" stroke-width="0.32">20</text>
<text x="224.7" y="263.56" font-size="7.2" text-anchor="middle" fill="#1a1a1a" font-weight="bold" stroke="#1a1a1a" stroke-width="0.32">40</text>
<text x="245.4" y="263.56" font-size="7.2" text-anchor="middle" fill="#1a1a1a" font-weight="bold" stroke="#1a1a1a" stroke-width="0.32">(&micro;mol/L)</text>
<text x="263.75" y="10.01" font-size="12" text-anchor="middle" fill="#1a1a1a" font-weight="bold" stroke="#1a1a1a" stroke-width="0.32">C</text>
<text transform="translate(266,85.6) rotate(-90)" x="0" y="2.59" font-size="7.3" text-anchor="middle" fill="#1a1a1a" font-weight="bold" stroke="#1a1a1a" stroke-width="0.32">GPX4 mRNA</text>
<rect x="286.5" y="18.5" width="94" height="62" fill="none" stroke="#7a7a7a" stroke-width="0.9"/>
<text x="284" y="20.48" font-size="7" text-anchor="end" fill="#2e2e2e" font-weight="bold" stroke="#2e2e2e" stroke-width="0.12">2.0</text>
<text x="284" y="36.11" font-size="7" text-anchor="end" fill="#2e2e2e" font-weight="bold" stroke="#2e2e2e" stroke-width="0.12">1.5</text>
<text x="284" y="51.73" font-size="7" text-anchor="end" fill="#2e2e2e" font-weight="bold" stroke="#2e2e2e" stroke-width="0.12">1.0</text>
<text x="284" y="67.36" font-size="7" text-anchor="end" fill="#2e2e2e" font-weight="bold" stroke="#2e2e2e" stroke-width="0.12">.5</text>
<text x="284" y="82.98" font-size="7" text-anchor="end" fill="#2e2e2e" font-weight="bold" stroke="#2e2e2e" stroke-width="0.12">0.0</text>
<text x="333.7" y="28.39" font-size="7.3" text-anchor="middle" fill="#1a1a1a" font-weight="bold" stroke="#1a1a1a" stroke-width="0.32">PANC1</text>
<rect x="286.5" y="88.5" width="94" height="62" fill="none" stroke="#7a7a7a" stroke-width="0.9"/>
<text x="284" y="90.58" font-size="7" text-anchor="end" fill="#2e2e2e" font-weight="bold" stroke="#2e2e2e" stroke-width="0.12">2.0</text>
<text x="284" y="106.18" font-size="7" text-anchor="end" fill="#2e2e2e" font-weight="bold" stroke="#2e2e2e" stroke-width="0.12">1.5</text>
<text x="284" y="121.78" font-size="7" text-anchor="end" fill="#2e2e2e" font-weight="bold" stroke="#2e2e2e" stroke-width="0.12">1.0</text>
<text x="284" y="137.39" font-size="7" text-anchor="end" fill="#2e2e2e" font-weight="bold" stroke="#2e2e2e" stroke-width="0.12">.5</text>
<text x="284" y="152.99" font-size="7" text-anchor="end" fill="#2e2e2e" font-weight="bold" stroke="#2e2e2e" stroke-width="0.12">0.0</text>
<text x="333.7" y="100.89" font-size="7.3" text-anchor="middle" fill="#1a1a1a" font-weight="bold" stroke="#1a1a1a" stroke-width="0.32">CFPAC1</text>
<rect x="292.45" y="49.25" width="5.5" height="31.25" fill="#000"/>
<line x1="295.2" y1="48.94" x2="295.2" y2="49.25" stroke="#6a6a6a" stroke-width="1.1"/>
<line x1="293.9" y1="49.44" x2="296.5" y2="49.44" stroke="#6a6a6a" stroke-width="1"/>
<rect x="300.95" y="45.5" width="5.5" height="35" fill="#000"/>
<line x1="303.7" y1="43.94" x2="303.7" y2="45.5" stroke="#6a6a6a" stroke-width="1.1"/>
<line x1="302.4" y1="44.44" x2="305" y2="44.44" stroke="#6a6a6a" stroke-width="1"/>
<rect x="309.45" y="49.25" width="5.5" height="31.25" fill="#000"/>
<line x1="312.2" y1="48.94" x2="312.2" y2="49.25" stroke="#6a6a6a" stroke-width="1.1"/>
<line x1="310.9" y1="49.44" x2="313.5" y2="49.44" stroke="#6a6a6a" stroke-width="1"/>
<rect x="317.95" y="45.19" width="5.5" height="35.31" fill="#000"/>
<line x1="320.7" y1="44.56" x2="320.7" y2="45.19" stroke="#6a6a6a" stroke-width="1.1"/>
<line x1="319.4" y1="45.06" x2="322" y2="45.06" stroke="#6a6a6a" stroke-width="1"/>
<rect x="326.45" y="49.25" width="5.5" height="31.25" fill="#000"/>
<line x1="329.2" y1="48.94" x2="329.2" y2="49.25" stroke="#6a6a6a" stroke-width="1.1"/>
<line x1="327.9" y1="49.44" x2="330.5" y2="49.44" stroke="#6a6a6a" stroke-width="1"/>
<rect x="334.95" y="46.12" width="5.5" height="34.38" fill="#000"/>
<line x1="337.7" y1="44.88" x2="337.7" y2="46.12" stroke="#6a6a6a" stroke-width="1.1"/>
<line x1="336.4" y1="45.38" x2="339" y2="45.38" stroke="#6a6a6a" stroke-width="1"/>
<rect x="343.45" y="49.25" width="5.5" height="31.25" fill="#000"/>
<line x1="346.2" y1="48.94" x2="346.2" y2="49.25" stroke="#6a6a6a" stroke-width="1.1"/>
<line x1="344.9" y1="49.44" x2="347.5" y2="49.44" stroke="#6a6a6a" stroke-width="1"/>
<rect x="351.95" y="47.38" width="5.5" height="33.12" fill="#000"/>
<line x1="354.7" y1="46.12" x2="354.7" y2="47.38" stroke="#6a6a6a" stroke-width="1.1"/>
<line x1="353.4" y1="46.62" x2="356" y2="46.62" stroke="#6a6a6a" stroke-width="1"/>
<rect x="360.45" y="49.25" width="5.5" height="31.25" fill="#000"/>
<line x1="363.2" y1="48.94" x2="363.2" y2="49.25" stroke="#6a6a6a" stroke-width="1.1"/>
<line x1="361.9" y1="49.44" x2="364.5" y2="49.44" stroke="#6a6a6a" stroke-width="1"/>
<rect x="368.95" y="47.69" width="5.5" height="32.81" fill="#000"/>
<line x1="371.7" y1="45.81" x2="371.7" y2="47.69" stroke="#6a6a6a" stroke-width="1.1"/>
<line x1="370.4" y1="46.31" x2="373" y2="46.31" stroke="#6a6a6a" stroke-width="1"/>
<line x1="295.5" y1="80.5" x2="295.5" y2="82.1" stroke="#999" stroke-width="0.8"/>
<line x1="303.5" y1="80.5" x2="303.5" y2="82.1" stroke="#999" stroke-width="0.8"/>
<line x1="312.5" y1="80.5" x2="312.5" y2="82.1" stroke="#999" stroke-width="0.8"/>
<line x1="320.5" y1="80.5" x2="320.5" y2="82.1" stroke="#999" stroke-width="0.8"/>
<line x1="329.5" y1="80.5" x2="329.5" y2="82.1" stroke="#999" stroke-width="0.8"/>
<line x1="337.5" y1="80.5" x2="337.5" y2="82.1" stroke="#999" stroke-width="0.8"/>
<line x1="346.5" y1="80.5" x2="346.5" y2="82.1" stroke="#999" stroke-width="0.8"/>
<line x1="354.5" y1="80.5" x2="354.5" y2="82.1" stroke="#999" stroke-width="0.8"/>
<line x1="363.5" y1="80.5" x2="363.5" y2="82.1" stroke="#999" stroke-width="0.8"/>
<line x1="371.5" y1="80.5" x2="371.5" y2="82.1" stroke="#999" stroke-width="0.8"/>
<rect x="292.45" y="119.3" width="5.5" height="31.2" fill="#000"/>
<line x1="295.2" y1="118.99" x2="295.2" y2="119.3" stroke="#6a6a6a" stroke-width="1.1"/>
<line x1="293.9" y1="119.49" x2="296.5" y2="119.49" stroke="#6a6a6a" stroke-width="1"/>
<rect x="300.95" y="114" width="5.5" height="36.5" fill="#000"/>
<line x1="303.7" y1="113.68" x2="303.7" y2="114" stroke="#6a6a6a" stroke-width="1.1"/>
<line x1="302.4" y1="114.18" x2="305" y2="114.18" stroke="#6a6a6a" stroke-width="1"/>
<rect x="309.45" y="119.3" width="5.5" height="31.2" fill="#000"/>
<line x1="312.2" y1="118.99" x2="312.2" y2="119.3" stroke="#6a6a6a" stroke-width="1.1"/>
<line x1="310.9" y1="119.49" x2="313.5" y2="119.49" stroke="#6a6a6a" stroke-width="1"/>
<rect x="317.95" y="114.62" width="5.5" height="35.88" fill="#000"/>
<line x1="320.7" y1="113.37" x2="320.7" y2="114.62" stroke="#6a6a6a" stroke-width="1.1"/>
<line x1="319.4" y1="113.87" x2="322" y2="113.87" stroke="#6a6a6a" stroke-width="1"/>
<rect x="326.45" y="119.3" width="5.5" height="31.2" fill="#000"/>
<line x1="329.2" y1="118.99" x2="329.2" y2="119.3" stroke="#6a6a6a" stroke-width="1.1"/>
<line x1="327.9" y1="119.49" x2="330.5" y2="119.49" stroke="#6a6a6a" stroke-width="1"/>
<rect x="334.95" y="114.31" width="5.5" height="36.19" fill="#000"/>
<line x1="337.7" y1="112.44" x2="337.7" y2="114.31" stroke="#6a6a6a" stroke-width="1.1"/>
<line x1="336.4" y1="112.94" x2="339" y2="112.94" stroke="#6a6a6a" stroke-width="1"/>
<rect x="343.45" y="119.3" width="5.5" height="31.2" fill="#000"/>
<line x1="346.2" y1="118.99" x2="346.2" y2="119.3" stroke="#6a6a6a" stroke-width="1.1"/>
<line x1="344.9" y1="119.49" x2="347.5" y2="119.49" stroke="#6a6a6a" stroke-width="1"/>
<rect x="351.95" y="117.43" width="5.5" height="33.07" fill="#000"/>
<line x1="354.7" y1="115.87" x2="354.7" y2="117.43" stroke="#6a6a6a" stroke-width="1.1"/>
<line x1="353.4" y1="116.37" x2="356" y2="116.37" stroke="#6a6a6a" stroke-width="1"/>
<rect x="360.45" y="119.3" width="5.5" height="31.2" fill="#000"/>
<line x1="363.2" y1="118.99" x2="363.2" y2="119.3" stroke="#6a6a6a" stroke-width="1.1"/>
<line x1="361.9" y1="119.49" x2="364.5" y2="119.49" stroke="#6a6a6a" stroke-width="1"/>
<rect x="368.95" y="115.56" width="5.5" height="34.94" fill="#000"/>
<line x1="371.7" y1="115.24" x2="371.7" y2="115.56" stroke="#6a6a6a" stroke-width="1.1"/>
<line x1="370.4" y1="115.74" x2="373" y2="115.74" stroke="#6a6a6a" stroke-width="1"/>
<line x1="295.5" y1="150.5" x2="295.5" y2="152.1" stroke="#999" stroke-width="0.8"/>
<line x1="303.5" y1="150.5" x2="303.5" y2="152.1" stroke="#999" stroke-width="0.8"/>
<line x1="312.5" y1="150.5" x2="312.5" y2="152.1" stroke="#999" stroke-width="0.8"/>
<line x1="320.5" y1="150.5" x2="320.5" y2="152.1" stroke="#999" stroke-width="0.8"/>
<line x1="329.5" y1="150.5" x2="329.5" y2="152.1" stroke="#999" stroke-width="0.8"/>
<line x1="337.5" y1="150.5" x2="337.5" y2="152.1" stroke="#999" stroke-width="0.8"/>
<line x1="346.5" y1="150.5" x2="346.5" y2="152.1" stroke="#999" stroke-width="0.8"/>
<line x1="354.5" y1="150.5" x2="354.5" y2="152.1" stroke="#999" stroke-width="0.8"/>
<line x1="363.5" y1="150.5" x2="363.5" y2="152.1" stroke="#999" stroke-width="0.8"/>
<line x1="371.5" y1="150.5" x2="371.5" y2="152.1" stroke="#999" stroke-width="0.8"/>
<text x="291.8" y="161.85" font-size="6.9" text-anchor="end" fill="#1a1a1a" font-weight="bold" stroke="#1a1a1a" stroke-width="0.32">Erastin</text>
<text x="295.2" y="161.69" font-size="7" text-anchor="middle" fill="#1a1a1a" font-weight="bold" stroke="#1a1a1a" stroke-width="0.32">-</text>
<text x="303.7" y="161.69" font-size="7" text-anchor="middle" fill="#1a1a1a" font-weight="bold" stroke="#1a1a1a" stroke-width="0.32">+</text>
<text x="312.2" y="161.69" font-size="7" text-anchor="middle" fill="#1a1a1a" font-weight="bold" stroke="#1a1a1a" stroke-width="0.32">-</text>
<text x="320.7" y="161.69" font-size="7" text-anchor="middle" fill="#1a1a1a" font-weight="bold" stroke="#1a1a1a" stroke-width="0.32">+</text>
<text x="329.2" y="161.69" font-size="7" text-anchor="middle" fill="#1a1a1a" font-weight="bold" stroke="#1a1a1a" stroke-width="0.32">-</text>
<text x="337.7" y="161.69" font-size="7" text-anchor="middle" fill="#1a1a1a" font-weight="bold" stroke="#1a1a1a" stroke-width="0.32">+</text>
<text x="346.2" y="161.69" font-size="7" text-anchor="middle" fill="#1a1a1a" font-weight="bold" stroke="#1a1a1a" stroke-width="0.32">-</text>
<text x="354.7" y="161.69" font-size="7" text-anchor="middle" fill="#1a1a1a" font-weight="bold" stroke="#1a1a1a" stroke-width="0.32">+</text>
<text x="363.2" y="161.69" font-size="7" text-anchor="middle" fill="#1a1a1a" font-weight="bold" stroke="#1a1a1a" stroke-width="0.32">-</text>
<text x="371.7" y="161.69" font-size="7" text-anchor="middle" fill="#1a1a1a" font-weight="bold" stroke="#1a1a1a" stroke-width="0.32">+</text>
<line x1="293" y1="164.5" x2="306.5" y2="164.5" stroke="#444" stroke-width="0.9"/>
<line x1="309.8" y1="164.5" x2="322.2" y2="164.5" stroke="#444" stroke-width="0.9"/>
<line x1="326.7" y1="164.5" x2="340.2" y2="164.5" stroke="#444" stroke-width="0.9"/>
<line x1="344.2" y1="164.5" x2="357.2" y2="164.5" stroke="#444" stroke-width="0.9"/>
<line x1="361" y1="164.5" x2="374.4" y2="164.5" stroke="#444" stroke-width="0.9"/>
<text transform="translate(299.2,166.4) rotate(-90)" x="0" y="2.73" font-size="7.7" text-anchor="end" fill="#1a1a1a" font-weight="bold" stroke="#1a1a1a" stroke-width="0.32">Ctrl sh</text>
<text transform="translate(316.2,166.4) rotate(-90)" x="0" y="2.73" font-size="7.7" text-anchor="end" fill="#1a1a1a" font-weight="bold" stroke="#1a1a1a" stroke-width="0.32">HSPA5 sh (1)</text>
<text transform="translate(333,166.4) rotate(-90)" x="0" y="2.73" font-size="7.7" text-anchor="end" fill="#1a1a1a" font-weight="bold" stroke="#1a1a1a" stroke-width="0.32">HSPA5 sh (2)</text>
<text transform="translate(350.3,166.4) rotate(-90)" x="0" y="2.73" font-size="7.7" text-anchor="end" fill="#1a1a1a" font-weight="bold" stroke="#1a1a1a" stroke-width="0.32">ATF4 sh (1)</text>
<text transform="translate(367,166.4) rotate(-90)" x="0" y="2.73" font-size="7.7" text-anchor="end" fill="#1a1a1a" font-weight="bold" stroke="#1a1a1a" stroke-width="0.32">ATF4 sh (2)</text>
<text x="399.9" y="10.26" font-size="12" text-anchor="middle" fill="#1a1a1a" font-weight="bold" stroke="#1a1a1a" stroke-width="0.32">F</text>
<text x="443.8" y="19.88" font-size="7" text-anchor="middle" fill="#1a1a1a" font-weight="bold" stroke="#1a1a1a" stroke-width="0.32">Erastin+CHX</text>
<line x1="420" y1="22.5" x2="469.3" y2="22.5" stroke="#444" stroke-width="0.9"/>
<text x="426.3" y="28.88" font-size="7" text-anchor="middle" fill="#1a1a1a" font-weight="bold" stroke="#1a1a1a" stroke-width="0.32">0</text>
<text x="435.2" y="28.88" font-size="7" text-anchor="middle" fill="#1a1a1a" font-weight="bold" stroke="#1a1a1a" stroke-width="0.32">2</text>
<text x="444.5" y="28.88" font-size="7" text-anchor="middle" fill="#1a1a1a" font-weight="bold" stroke="#1a1a1a" stroke-width="0.32">4</text>
<text x="453.8" y="28.88" font-size="7" text-anchor="middle" fill="#1a1a1a" font-weight="bold" stroke="#1a1a1a" stroke-width="0.32">6</text>
<text x="463" y="28.88" font-size="7" text-anchor="middle" fill="#1a1a1a" font-weight="bold" stroke="#1a1a1a" stroke-width="0.32">8</text>
<text x="472.2" y="28.88" font-size="7" text-anchor="middle" fill="#1a1a1a" font-weight="bold" stroke="#1a1a1a" stroke-width="0.32">(h)</text>
<rect x="420.4" y="31.6" width="48.8" height="9.4" fill="#828282" stroke="#454545" stroke-width="1.1"/>
<g filter="url(#bl)"><rect x="421.7" y="35.15" width="8.6" height="2.3" rx="1.6" ry="1.15" fill="#050505" fill-opacity="0.55"/><rect x="431.1" y="35.15" width="8.6" height="2.3" rx="1.6" ry="1.15" fill="#050505" fill-opacity="0.9"/><rect x="440.5" y="35.15" width="8.6" height="2.3" rx="1.6" ry="1.15" fill="#050505" fill-opacity="0.7"/><rect x="449.9" y="35.15" width="8.6" height="2.3" rx="1.6" ry="1.15" fill="#050505" fill-opacity="0.28"/><rect x="459.3" y="35.15" width="8.6" height="2.3" rx="1.6" ry="1.15" fill="#050505" fill-opacity="0.32"/></g>
<text x="417.8" y="39.06" font-size="7.2" text-anchor="end" fill="#1a1a1a" font-weight="bold" stroke="#1a1a1a" stroke-width="0.32">GPX4</text>
<rect x="420.4" y="44.7" width="48.8" height="9" fill="#828282" stroke="#454545" stroke-width="1.1"/>
<g filter="url(#bl)"><rect x="421.7" y="48.05" width="8.6" height="2.3" rx="1.6" ry="1.15" fill="#050505" fill-opacity="0.85"/><rect x="431.1" y="48.05" width="8.6" height="2.3" rx="1.6" ry="1.15" fill="#050505" fill-opacity="0.85"/><rect x="440.5" y="48.05" width="8.6" height="2.3" rx="1.6" ry="1.15" fill="#050505" fill-opacity="0.85"/><rect x="449.9" y="48.05" width="8.6" height="2.3" rx="1.6" ry="1.15" fill="#050505" fill-opacity="0.85"/><rect x="459.3" y="48.05" width="8.6" height="2.3" rx="1.6" ry="1.15" fill="#050505" fill-opacity="0.9"/></g>
<text x="417.8" y="51.96" font-size="7.2" text-anchor="end" fill="#1a1a1a" font-weight="bold" stroke="#1a1a1a" stroke-width="0.32">ACTB</text>
<rect x="420.4" y="57.2" width="48.8" height="9.3" fill="#828282" stroke="#454545" stroke-width="1.1"/>
<g filter="url(#bl)"><rect x="421.7" y="60.7" width="8.6" height="2.3" rx="1.6" ry="1.15" fill="#050505" fill-opacity="0.85"/><rect x="431.1" y="60.7" width="8.6" height="2.3" rx="1.6" ry="1.15" fill="#050505" fill-opacity="0.8"/><rect x="440.5" y="60.7" width="8.6" height="2.3" rx="1.6" ry="1.15" fill="#050505" fill-opacity="0.35"/><rect x="449.9" y="60.7" width="8.6" height="2.3" rx="1.6" ry="1.15" fill="#050505" fill-opacity="0.33"/><rect x="459.3" y="60.7" width="8.6" height="2.3" rx="1.6" ry="1.15" fill="#050505" fill-opacity="0.22"/></g>
<text x="417.8" y="64.61" font-size="7.2" text-anchor="end" fill="#1a1a1a" font-weight="bold" stroke="#1a1a1a" stroke-width="0.32">GPX4</text>
<rect x="420.4" y="70.2" width="48.8" height="9.1" fill="#828282" stroke="#454545" stroke-width="1.1"/>
<g filter="url(#bl)"><rect x="421.7" y="73.6" width="8.6" height="2.3" rx="1.6" ry="1.15" fill="#050505" fill-opacity="0.7"/><rect x="431.1" y="73.6" width="8.6" height="2.3" rx="1.6" ry="1.15" fill="#050505" fill-opacity="0.85"/><rect x="440.5" y="73.6" width="8.6" height="2.3" rx="1.6" ry="1.15" fill="#050505" fill-opacity="0.85"/><rect x="449.9" y="73.6" width="8.6" height="2.3" rx="1.6" ry="1.15" fill="#050505" fill-opacity="0.85"/><rect x="459.3" y="73.6" width="8.6" height="2.3" rx="1.6" ry="1.15" fill="#050505" fill-opacity="0.88"/></g>
<text x="417.8" y="77.51" font-size="7.2" text-anchor="end" fill="#1a1a1a" font-weight="bold" stroke="#1a1a1a" stroke-width="0.32">ACTB</text>
<rect x="420.4" y="82.7" width="48.8" height="9.3" fill="#828282" stroke="#454545" stroke-width="1.1"/>
<g filter="url(#bl)"><rect x="421.7" y="86.2" width="8.6" height="2.3" rx="1.6" ry="1.15" fill="#050505" fill-opacity="0.75"/><rect x="431.1" y="86.2" width="8.6" height="2.3" rx="1.6" ry="1.15" fill="#050505" fill-opacity="0.72"/><rect x="440.5" y="86.2" width="8.6" height="2.3" rx="1.6" ry="1.15" fill="#050505" fill-opacity="0.7"/><rect x="449.9" y="86.2" width="8.6" height="2.3" rx="1.6" ry="1.15" fill="#050505" fill-opacity="0.72"/><rect x="459.3" y="86.2" width="8.6" height="2.3" rx="1.6" ry="1.15" fill="#050505" fill-opacity="0.78"/></g>
<text x="417.8" y="90.11" font-size="7.2" text-anchor="end" fill="#1a1a1a" font-weight="bold" stroke="#1a1a1a" stroke-width="0.32">GPX4</text>
<rect x="420.4" y="95.6" width="48.8" height="9" fill="#828282" stroke="#454545" stroke-width="1.1"/>
<g filter="url(#bl)"><rect x="421.7" y="98.95" width="8.6" height="2.3" rx="1.6" ry="1.15" fill="#050505" fill-opacity="0.92"/><rect x="431.1" y="98.95" width="8.6" height="2.3" rx="1.6" ry="1.15" fill="#050505" fill-opacity="0.9"/><rect x="440.5" y="98.95" width="8.6" height="2.3" rx="1.6" ry="1.15" fill="#050505" fill-opacity="0.9"/><rect x="449.9" y="98.95" width="8.6" height="2.3" rx="1.6" ry="1.15" fill="#050505" fill-opacity="0.9"/><rect x="459.3" y="98.95" width="8.6" height="2.3" rx="1.6" ry="1.15" fill="#050505" fill-opacity="0.9"/></g>
<text x="417.8" y="102.86" font-size="7.2" text-anchor="end" fill="#1a1a1a" font-weight="bold" stroke="#1a1a1a" stroke-width="0.32">ACTB</text>
<line x1="472.5" y1="31" x2="472.5" y2="54.3" stroke="#999" stroke-width="1"/>
<line x1="472.5" y1="56.6" x2="472.5" y2="79.9" stroke="#999" stroke-width="1"/>
<line x1="472.5" y1="82.1" x2="472.5" y2="105.2" stroke="#999" stroke-width="1"/>
<text x="497.5" y="41.28" font-size="7" text-anchor="middle" fill="#1a1a1a" font-weight="bold" stroke="#1a1a1a" stroke-width="0.32">Ctrl</text>
<text x="496.8" y="66.39" font-size="7" text-anchor="middle" fill="#1a1a1a" font-weight="bold" stroke="#1a1a1a" stroke-width="0.32">HSPA5 sh (1)</text>
<text x="497.3" y="93.78" font-size="7" text-anchor="middle" fill="#1a1a1a" font-weight="bold" stroke="#1a1a1a" stroke-width="0.32">HSPA5 cDNA</text>
<text x="418.4" y="179.59" font-size="7" text-anchor="end" fill="#333" font-weight="bold">0</text>
<text x="418.4" y="169.17" font-size="7" text-anchor="end" fill="#333" font-weight="bold">20</text>
<text x="418.4" y="158.75" font-size="7" text-anchor="end" fill="#333" font-weight="bold">40</text>
<text x="418.4" y="148.33" font-size="7" text-anchor="end" fill="#333" font-weight="bold">60</text>
<text x="418.4" y="137.91" font-size="7" text-anchor="end" fill="#333" font-weight="bold">80</text>
<text x="418.4" y="127.48" font-size="7" text-anchor="end" fill="#333" font-weight="bold">100</text>
<text x="433.5" y="189.21" font-size="6.8" text-anchor="middle" fill="#1a1a1a" font-weight="bold" stroke="#1a1a1a" stroke-width="0.32">0</text>
<text x="443.1" y="189.21" font-size="6.8" text-anchor="middle" fill="#1a1a1a" font-weight="bold" stroke="#1a1a1a" stroke-width="0.32">2</text>
<text x="453.1" y="189.21" font-size="6.8" text-anchor="middle" fill="#1a1a1a" font-weight="bold" stroke="#1a1a1a" stroke-width="0.32">4</text>
<text x="462.8" y="189.21" font-size="6.8" text-anchor="middle" fill="#1a1a1a" font-weight="bold" stroke="#1a1a1a" stroke-width="0.32">6</text>
<text x="472.1" y="189.21" font-size="6.8" text-anchor="middle" fill="#1a1a1a" font-weight="bold" stroke="#1a1a1a" stroke-width="0.32">8</text>
<text x="480" y="189.21" font-size="6.8" text-anchor="middle" fill="#1a1a1a" font-weight="bold" stroke="#1a1a1a" stroke-width="0.32">(h)</text>
<text transform="translate(400.8,148.4) rotate(-90)" x="0" y="2.59" font-size="7.3" text-anchor="middle" fill="#1a1a1a" font-weight="bold" stroke="#1a1a1a" stroke-width="0.32">GPX4 protein (%)</text>
<text x="6.25" y="280.76" font-size="12" text-anchor="middle" fill="#1a1a1a" font-weight="bold" stroke="#1a1a1a" stroke-width="0.32">D</text>
<rect x="36.5" y="279.5" width="106" height="62" fill="none" stroke="#7a7a7a" stroke-width="0.9"/>
<line x1="80.5" y1="279.5" x2="80.5" y2="342.75" stroke="#8a8a8a" stroke-width="1"/>
<rect x="36.5" y="348.5" width="106" height="62" fill="none" stroke="#7a7a7a" stroke-width="0.9"/>
<line x1="80.5" y1="348.75" x2="80.5" y2="411.75" stroke="#8a8a8a" stroke-width="1"/>
<rect x="36.5" y="418.5" width="106" height="62" fill="none" stroke="#7a7a7a" stroke-width="0.9"/>
<line x1="80.5" y1="418.25" x2="80.5" y2="481.5" stroke="#8a8a8a" stroke-width="1"/>
<text x="33" y="281.99" font-size="7" text-anchor="end" fill="#2e2e2e" font-weight="bold" stroke="#2e2e2e" stroke-width="0.12">2.0</text>
<text x="33" y="297.55" font-size="7" text-anchor="end" fill="#2e2e2e" font-weight="bold" stroke="#2e2e2e" stroke-width="0.12">1.5</text>
<text x="33" y="313.11" font-size="7" text-anchor="end" fill="#2e2e2e" font-weight="bold" stroke="#2e2e2e" stroke-width="0.12">1.0</text>
<text x="33" y="328.67" font-size="7" text-anchor="end" fill="#2e2e2e" font-weight="bold" stroke="#2e2e2e" stroke-width="0.12">.5</text>
<text x="33" y="344.24" font-size="7" text-anchor="end" fill="#2e2e2e" font-weight="bold" stroke="#2e2e2e" stroke-width="0.12">0.0</text>
<text x="33" y="351.24" font-size="7" text-anchor="end" fill="#2e2e2e" font-weight="bold" stroke="#2e2e2e" stroke-width="0.12">5</text>
<text x="33" y="363.63" font-size="7" text-anchor="end" fill="#2e2e2e" font-weight="bold" stroke="#2e2e2e" stroke-width="0.12">4</text>
<text x="33" y="376.04" font-size="7" text-anchor="end" fill="#2e2e2e" font-weight="bold" stroke="#2e2e2e" stroke-width="0.12">3</text>
<text x="33" y="388.44" font-size="7" text-anchor="end" fill="#2e2e2e" font-weight="bold" stroke="#2e2e2e" stroke-width="0.12">2</text>
<text x="33" y="400.84" font-size="7" text-anchor="end" fill="#2e2e2e" font-weight="bold" stroke="#2e2e2e" stroke-width="0.12">1</text>
<text x="33" y="413.24" font-size="7" text-anchor="end" fill="#2e2e2e" font-weight="bold" stroke="#2e2e2e" stroke-width="0.12">0</text>
<text x="33" y="420.74" font-size="7" text-anchor="end" fill="#2e2e2e" font-weight="bold" stroke="#2e2e2e" stroke-width="0.12">20</text>
<text x="33" y="436.3" font-size="7" text-anchor="end" fill="#2e2e2e" font-weight="bold" stroke="#2e2e2e" stroke-width="0.12">15</text>
<text x="33" y="451.86" font-size="7" text-anchor="end" fill="#2e2e2e" font-weight="bold" stroke="#2e2e2e" stroke-width="0.12">10</text>
<text x="33" y="467.42" font-size="7" text-anchor="end" fill="#2e2e2e" font-weight="bold" stroke="#2e2e2e" stroke-width="0.12">5</text>
<text x="33" y="482.99" font-size="7" text-anchor="end" fill="#2e2e2e" font-weight="bold" stroke="#2e2e2e" stroke-width="0.12">0</text>
<text transform="translate(16.7,311.5) rotate(-90)" x="0" y="2.63" font-size="7.4" text-anchor="middle" fill="#1a1a1a" font-weight="bold" stroke="#1a1a1a" stroke-width="0.32">GPX4 Protein</text>
<text transform="translate(17.9,378.3) rotate(-90)" x="0" y="2.63" font-size="7.4" text-anchor="middle" fill="#1a1a1a" font-weight="bold" stroke="#1a1a1a" stroke-width="0.32">HSPA5 Protein</text>
<text transform="translate(11.6,450.4) rotate(-90)" x="0" y="2.63" font-size="7.4" text-anchor="middle" fill="#1a1a1a" font-weight="bold" stroke="#1a1a1a" stroke-width="0.32">GPX4 Activity</text>
<text transform="translate(20.5,450.1) rotate(-90)" x="0" y="2.64" font-size="7.45" text-anchor="middle" fill="#1a1a1a" font-weight="bold" stroke="#1a1a1a" stroke-width="0.32">(U/mg total protein)</text>
<text x="58.2" y="288.19" font-size="7.3" text-anchor="middle" fill="#1a1a1a" font-weight="bold" stroke="#1a1a1a" stroke-width="0.32">PANC1</text>
<text x="110.2" y="288.19" font-size="7.3" text-anchor="middle" fill="#1a1a1a" font-weight="bold" stroke="#1a1a1a" stroke-width="0.32">CFPAC1</text>
<rect x="43.7" y="310" width="5.8" height="31.75" fill="#000"/>
<line x1="46.6" y1="307.51" x2="46.6" y2="310" stroke="#6a6a6a" stroke-width="1.1"/>
<line x1="45.3" y1="308.01" x2="47.9" y2="308.01" stroke="#6a6a6a" stroke-width="1"/>
<rect x="53.2" y="330.55" width="5.8" height="11.2" fill="#000"/>
<line x1="56.1" y1="329.92" x2="56.1" y2="330.55" stroke="#6a6a6a" stroke-width="1.1"/>
<line x1="54.8" y1="330.42" x2="57.4" y2="330.42" stroke="#6a6a6a" stroke-width="1"/>
<rect x="62.9" y="313.12" width="5.8" height="28.63" fill="#000"/>
<line x1="65.8" y1="312.18" x2="65.8" y2="313.12" stroke="#6a6a6a" stroke-width="1.1"/>
<line x1="64.5" y1="312.68" x2="67.1" y2="312.68" stroke="#6a6a6a" stroke-width="1"/>
<rect x="72.4" y="337.7" width="5.8" height="4.05" fill="#000"/>
<line x1="75.3" y1="336.77" x2="75.3" y2="337.7" stroke="#6a6a6a" stroke-width="1.1"/>
<line x1="74" y1="337.27" x2="76.6" y2="337.27" stroke="#6a6a6a" stroke-width="1"/>
<line x1="46.5" y1="341.75" x2="46.5" y2="343.35" stroke="#999" stroke-width="0.8"/>
<line x1="56.5" y1="341.75" x2="56.5" y2="343.35" stroke="#999" stroke-width="0.8"/>
<line x1="65.5" y1="341.75" x2="65.5" y2="343.35" stroke="#999" stroke-width="0.8"/>
<line x1="75.5" y1="341.75" x2="75.5" y2="343.35" stroke="#999" stroke-width="0.8"/>
<rect x="43.7" y="398.35" width="5.8" height="12.4" fill="#000"/>
<line x1="46.6" y1="397.61" x2="46.6" y2="398.35" stroke="#6a6a6a" stroke-width="1.1"/>
<line x1="45.3" y1="398.11" x2="47.9" y2="398.11" stroke="#6a6a6a" stroke-width="1"/>
<rect x="53.2" y="371.07" width="5.8" height="39.68" fill="#000"/>
<line x1="56.1" y1="363.63" x2="56.1" y2="371.07" stroke="#6a6a6a" stroke-width="1.1"/>
<line x1="54.8" y1="364.13" x2="57.4" y2="364.13" stroke="#6a6a6a" stroke-width="1"/>
<rect x="62.9" y="408.27" width="5.8" height="2.48" fill="#000"/>
<line x1="65.8" y1="408.02" x2="65.8" y2="408.27" stroke="#6a6a6a" stroke-width="1.1"/>
<line x1="64.5" y1="408.52" x2="67.1" y2="408.52" stroke="#6a6a6a" stroke-width="1"/>
<rect x="72.4" y="407.03" width="5.8" height="3.72" fill="#000"/>
<line x1="75.3" y1="406.78" x2="75.3" y2="407.03" stroke="#6a6a6a" stroke-width="1.1"/>
<line x1="74" y1="407.28" x2="76.6" y2="407.28" stroke="#6a6a6a" stroke-width="1"/>
<line x1="46.5" y1="410.75" x2="46.5" y2="412.35" stroke="#999" stroke-width="0.8"/>
<line x1="56.5" y1="410.75" x2="56.5" y2="412.35" stroke="#999" stroke-width="0.8"/>
<line x1="65.5" y1="410.75" x2="65.5" y2="412.35" stroke="#999" stroke-width="0.8"/>
<line x1="75.5" y1="410.75" x2="75.5" y2="412.35" stroke="#999" stroke-width="0.8"/>
<rect x="43.7" y="440.04" width="5.8" height="40.46" fill="#000"/>
<line x1="46.6" y1="435.68" x2="46.6" y2="440.04" stroke="#6a6a6a" stroke-width="1.1"/>
<line x1="45.3" y1="436.18" x2="47.9" y2="436.18" stroke="#6a6a6a" stroke-width="1"/>
<rect x="53.2" y="467.12" width="5.8" height="13.38" fill="#000"/>
<line x1="56.1" y1="463.07" x2="56.1" y2="467.12" stroke="#6a6a6a" stroke-width="1.1"/>
<line x1="54.8" y1="463.57" x2="57.4" y2="463.57" stroke="#6a6a6a" stroke-width="1"/>
<rect x="62.9" y="445.64" width="5.8" height="34.86" fill="#000"/>
<line x1="65.8" y1="443.15" x2="65.8" y2="445.64" stroke="#6a6a6a" stroke-width="1.1"/>
<line x1="64.5" y1="443.65" x2="67.1" y2="443.65" stroke="#6a6a6a" stroke-width="1"/>
<rect x="72.4" y="476.76" width="5.8" height="3.74" fill="#000"/>
<line x1="75.3" y1="474.27" x2="75.3" y2="476.76" stroke="#6a6a6a" stroke-width="1.1"/>
<line x1="74" y1="474.77" x2="76.6" y2="474.77" stroke="#6a6a6a" stroke-width="1"/>
<line x1="46.5" y1="480.5" x2="46.5" y2="482.1" stroke="#999" stroke-width="0.8"/>
<line x1="56.5" y1="480.5" x2="56.5" y2="482.1" stroke="#999" stroke-width="0.8"/>
<line x1="65.5" y1="480.5" x2="65.5" y2="482.1" stroke="#999" stroke-width="0.8"/>
<line x1="75.5" y1="480.5" x2="75.5" y2="482.1" stroke="#999" stroke-width="0.8"/>
<rect x="82.4" y="310.62" width="5.8" height="31.12" fill="#000"/>
<line x1="85.3" y1="310.31" x2="85.3" y2="310.62" stroke="#6a6a6a" stroke-width="1.1"/>
<line x1="84" y1="310.81" x2="86.6" y2="310.81" stroke="#6a6a6a" stroke-width="1"/>
<rect x="91.9" y="333.04" width="5.8" height="8.71" fill="#000"/>
<line x1="94.8" y1="331.48" x2="94.8" y2="333.04" stroke="#6a6a6a" stroke-width="1.1"/>
<line x1="93.5" y1="331.98" x2="96.1" y2="331.98" stroke="#6a6a6a" stroke-width="1"/>
<rect x="101.4" y="314.36" width="5.8" height="27.39" fill="#000"/>
<line x1="104.3" y1="313.74" x2="104.3" y2="314.36" stroke="#6a6a6a" stroke-width="1.1"/>
<line x1="103" y1="314.24" x2="105.6" y2="314.24" stroke="#6a6a6a" stroke-width="1"/>
<rect x="111" y="341.13" width="5.8" height="0.62" fill="#000"/>
<rect x="120.6" y="317.78" width="5.8" height="23.97" fill="#000"/>
<line x1="123.5" y1="317.16" x2="123.5" y2="317.78" stroke="#6a6a6a" stroke-width="1.1"/>
<line x1="122.2" y1="317.66" x2="124.8" y2="317.66" stroke="#6a6a6a" stroke-width="1"/>
<line x1="85.5" y1="341.75" x2="85.5" y2="343.35" stroke="#999" stroke-width="0.8"/>
<line x1="94.5" y1="341.75" x2="94.5" y2="343.35" stroke="#999" stroke-width="0.8"/>
<line x1="104.5" y1="341.75" x2="104.5" y2="343.35" stroke="#999" stroke-width="0.8"/>
<line x1="113.5" y1="341.75" x2="113.5" y2="343.35" stroke="#999" stroke-width="0.8"/>
<line x1="123.5" y1="341.75" x2="123.5" y2="343.35" stroke="#999" stroke-width="0.8"/>
<line x1="132.5" y1="341.75" x2="132.5" y2="343.35" stroke="#999" stroke-width="0.8"/>
<rect x="82.4" y="398.35" width="5.8" height="12.4" fill="#000"/>
<line x1="85.3" y1="395.87" x2="85.3" y2="398.35" stroke="#6a6a6a" stroke-width="1.1"/>
<line x1="84" y1="396.37" x2="86.6" y2="396.37" stroke="#6a6a6a" stroke-width="1"/>
<rect x="91.9" y="377.89" width="5.8" height="32.86" fill="#000"/>
<line x1="94.8" y1="372.31" x2="94.8" y2="377.89" stroke="#6a6a6a" stroke-width="1.1"/>
<line x1="93.5" y1="372.81" x2="96.1" y2="372.81" stroke="#6a6a6a" stroke-width="1"/>
<rect x="101.4" y="409.26" width="5.8" height="1.49" fill="#000"/>
<rect x="111" y="409.26" width="5.8" height="1.49" fill="#000"/>
<rect x="120.6" y="410.01" width="5.8" height="0.74" fill="#000"/>
<rect x="130.1" y="410.01" width="5.8" height="0.74" fill="#000"/>
<line x1="85.5" y1="410.75" x2="85.5" y2="412.35" stroke="#999" stroke-width="0.8"/>
<line x1="94.5" y1="410.75" x2="94.5" y2="412.35" stroke="#999" stroke-width="0.8"/>
<line x1="104.5" y1="410.75" x2="104.5" y2="412.35" stroke="#999" stroke-width="0.8"/>
<line x1="113.5" y1="410.75" x2="113.5" y2="412.35" stroke="#999" stroke-width="0.8"/>
<line x1="123.5" y1="410.75" x2="123.5" y2="412.35" stroke="#999" stroke-width="0.8"/>
<line x1="132.5" y1="410.75" x2="132.5" y2="412.35" stroke="#999" stroke-width="0.8"/>
<rect x="82.4" y="448.44" width="5.8" height="32.06" fill="#000"/>
<line x1="85.3" y1="445.33" x2="85.3" y2="448.44" stroke="#6a6a6a" stroke-width="1.1"/>
<line x1="84" y1="445.83" x2="86.6" y2="445.83" stroke="#6a6a6a" stroke-width="1"/>
<rect x="91.9" y="470.23" width="5.8" height="10.27" fill="#000"/>
<line x1="94.8" y1="469.92" x2="94.8" y2="470.23" stroke="#6a6a6a" stroke-width="1.1"/>
<line x1="93.5" y1="470.42" x2="96.1" y2="470.42" stroke="#6a6a6a" stroke-width="1"/>
<rect x="101.4" y="451.55" width="5.8" height="28.95" fill="#000"/>
<line x1="104.3" y1="445.02" x2="104.3" y2="451.55" stroke="#6a6a6a" stroke-width="1.1"/>
<line x1="103" y1="445.52" x2="105.6" y2="445.52" stroke="#6a6a6a" stroke-width="1"/>
<rect x="111" y="479.25" width="5.8" height="1.25" fill="#000"/>
<rect x="120.6" y="453.11" width="5.8" height="27.39" fill="#000"/>
<line x1="123.5" y1="451.24" x2="123.5" y2="453.11" stroke="#6a6a6a" stroke-width="1.1"/>
<line x1="122.2" y1="451.74" x2="124.8" y2="451.74" stroke="#6a6a6a" stroke-width="1"/>
<rect x="130.1" y="479.88" width="5.8" height="0.62" fill="#000"/>
<line x1="85.5" y1="480.5" x2="85.5" y2="482.1" stroke="#999" stroke-width="0.8"/>
<line x1="94.5" y1="480.5" x2="94.5" y2="482.1" stroke="#999" stroke-width="0.8"/>
<line x1="104.5" y1="480.5" x2="104.5" y2="482.1" stroke="#999" stroke-width="0.8"/>
<line x1="113.5" y1="480.5" x2="113.5" y2="482.1" stroke="#999" stroke-width="0.8"/>
<line x1="123.5" y1="480.5" x2="123.5" y2="482.1" stroke="#999" stroke-width="0.8"/>
<line x1="132.5" y1="480.5" x2="132.5" y2="482.1" stroke="#999" stroke-width="0.8"/>
<line x1="55.5" y1="303.5" x2="75.2" y2="303.5" stroke="#666" stroke-width="1"/>
<line x1="55.5" y1="303.4" x2="55.5" y2="305" stroke="#666" stroke-width="0.9"/>
<line x1="75.5" y1="303.4" x2="75.5" y2="305" stroke="#666" stroke-width="0.9"/>
<circle cx="65.9" cy="299.2" r="1.55" fill="#111"/>
<line x1="57" y1="358.5" x2="75.7" y2="358.5" stroke="#666" stroke-width="1"/>
<line x1="56.5" y1="358.4" x2="56.5" y2="360" stroke="#666" stroke-width="0.9"/>
<line x1="75.5" y1="358.4" x2="75.5" y2="360" stroke="#666" stroke-width="0.9"/>
<circle cx="66.2" cy="354.2" r="1.55" fill="#111"/>
<line x1="55" y1="432.5" x2="74.5" y2="432.5" stroke="#666" stroke-width="1"/>
<line x1="54.5" y1="432.1" x2="54.5" y2="433.7" stroke="#666" stroke-width="0.9"/>
<line x1="74.5" y1="432.1" x2="74.5" y2="433.7" stroke="#666" stroke-width="0.9"/>
<circle cx="65.5" cy="427.9" r="1.55" fill="#111"/>
<line x1="93.8" y1="303.5" x2="133.8" y2="303.5" stroke="#666" stroke-width="1"/>
<line x1="93.5" y1="303.8" x2="93.5" y2="305.4" stroke="#666" stroke-width="0.9"/>
<line x1="133.5" y1="303.8" x2="133.5" y2="305.4" stroke="#666" stroke-width="0.9"/>
<circle cx="113.8" cy="299.6" r="1.55" fill="#111"/>
<line x1="93.8" y1="309.5" x2="113.8" y2="309.5" stroke="#666" stroke-width="1"/>
<line x1="93.5" y1="309.6" x2="93.5" y2="311.2" stroke="#666" stroke-width="0.9"/>
<line x1="113.5" y1="309.6" x2="113.5" y2="311.2" stroke="#666" stroke-width="0.9"/>
<line x1="93.8" y1="363.5" x2="133.8" y2="363.5" stroke="#666" stroke-width="1"/>
<line x1="93.5" y1="363.3" x2="93.5" y2="364.9" stroke="#666" stroke-width="0.9"/>
<line x1="133.5" y1="363.3" x2="133.5" y2="364.9" stroke="#666" stroke-width="0.9"/>
<circle cx="113.8" cy="359.1" r="1.55" fill="#111"/>
<line x1="93.8" y1="368.5" x2="113.8" y2="368.5" stroke="#666" stroke-width="1"/>
<line x1="93.5" y1="368.4" x2="93.5" y2="370" stroke="#666" stroke-width="0.9"/>
<line x1="113.5" y1="368.4" x2="113.5" y2="370" stroke="#666" stroke-width="0.9"/>
<line x1="93.8" y1="433.5" x2="133.8" y2="433.5" stroke="#666" stroke-width="1"/>
<line x1="93.5" y1="433.8" x2="93.5" y2="435.4" stroke="#666" stroke-width="0.9"/>
<line x1="133.5" y1="433.8" x2="133.5" y2="435.4" stroke="#666" stroke-width="0.9"/>
<circle cx="113.8" cy="429.6" r="1.55" fill="#111"/>
<line x1="93.8" y1="439.5" x2="113.8" y2="439.5" stroke="#666" stroke-width="1"/>
<line x1="93.5" y1="439.6" x2="93.5" y2="441.2" stroke="#666" stroke-width="0.9"/>
<line x1="113.5" y1="439.6" x2="113.5" y2="441.2" stroke="#666" stroke-width="0.9"/>
<rect x="174.5" y="279.5" width="49" height="62" fill="none" stroke="#7a7a7a" stroke-width="0.9"/>
<rect x="174.5" y="348.5" width="49" height="62" fill="none" stroke="#7a7a7a" stroke-width="0.9"/>
<rect x="174.5" y="418.5" width="49" height="62" fill="none" stroke="#7a7a7a" stroke-width="0.9"/>
<text x="170.2" y="281.99" font-size="7" text-anchor="end" fill="#2e2e2e" font-weight="bold" stroke="#2e2e2e" stroke-width="0.12">2.0</text>
<text x="170.2" y="297.55" font-size="7" text-anchor="end" fill="#2e2e2e" font-weight="bold" stroke="#2e2e2e" stroke-width="0.12">1.5</text>
<text x="170.2" y="313.11" font-size="7" text-anchor="end" fill="#2e2e2e" font-weight="bold" stroke="#2e2e2e" stroke-width="0.12">1.0</text>
<text x="170.2" y="328.67" font-size="7" text-anchor="end" fill="#2e2e2e" font-weight="bold" stroke="#2e2e2e" stroke-width="0.12">.5</text>
<text x="170.2" y="344.24" font-size="7" text-anchor="end" fill="#2e2e2e" font-weight="bold" stroke="#2e2e2e" stroke-width="0.12">0.0</text>
<text x="170.2" y="351.24" font-size="7" text-anchor="end" fill="#2e2e2e" font-weight="bold" stroke="#2e2e2e" stroke-width="0.12">5</text>
<text x="170.2" y="363.63" font-size="7" text-anchor="end" fill="#2e2e2e" font-weight="bold" stroke="#2e2e2e" stroke-width="0.12">4</text>
<text x="170.2" y="376.04" font-size="7" text-anchor="end" fill="#2e2e2e" font-weight="bold" stroke="#2e2e2e" stroke-width="0.12">3</text>
<text x="170.2" y="388.44" font-size="7" text-anchor="end" fill="#2e2e2e" font-weight="bold" stroke="#2e2e2e" stroke-width="0.12">2</text>
<text x="170.2" y="400.84" font-size="7" text-anchor="end" fill="#2e2e2e" font-weight="bold" stroke="#2e2e2e" stroke-width="0.12">1</text>
<text x="170.2" y="413.24" font-size="7" text-anchor="end" fill="#2e2e2e" font-weight="bold" stroke="#2e2e2e" stroke-width="0.12">0</text>
<text x="170.2" y="420.74" font-size="7" text-anchor="end" fill="#2e2e2e" font-weight="bold" stroke="#2e2e2e" stroke-width="0.12">20</text>
<text x="170.2" y="436.3" font-size="7" text-anchor="end" fill="#2e2e2e" font-weight="bold" stroke="#2e2e2e" stroke-width="0.12">15</text>
<text x="170.2" y="451.86" font-size="7" text-anchor="end" fill="#2e2e2e" font-weight="bold" stroke="#2e2e2e" stroke-width="0.12">10</text>
<text x="170.2" y="467.42" font-size="7" text-anchor="end" fill="#2e2e2e" font-weight="bold" stroke="#2e2e2e" stroke-width="0.12">5</text>
<text x="170.2" y="482.99" font-size="7" text-anchor="end" fill="#2e2e2e" font-weight="bold" stroke="#2e2e2e" stroke-width="0.12">0</text>
<text transform="translate(154.4,312.2) rotate(-90)" x="0" y="2.66" font-size="7.5" text-anchor="middle" fill="#1a1a1a" font-weight="bold" stroke="#1a1a1a" stroke-width="0.32">GPX4 Protein</text>
<text transform="translate(155.2,377.8) rotate(-90)" x="0" y="2.63" font-size="7.4" text-anchor="middle" fill="#1a1a1a" font-weight="bold" stroke="#1a1a1a" stroke-width="0.32">ATF4 Protein</text>
<text transform="translate(149.6,449.3) rotate(-90)" x="0" y="2.64" font-size="7.45" text-anchor="middle" fill="#1a1a1a" font-weight="bold" stroke="#1a1a1a" stroke-width="0.32">GPX4 Activity</text>
<text transform="translate(157.8,449.9) rotate(-90)" x="0" y="2.66" font-size="7.5" text-anchor="middle" fill="#1a1a1a" font-weight="bold" stroke="#1a1a1a" stroke-width="0.32">(U/mg total protein)</text>
<text x="200" y="288.19" font-size="7.3" text-anchor="middle" fill="#1a1a1a" font-weight="bold" stroke="#1a1a1a" stroke-width="0.32">CFPAC1</text>
<rect x="180.8" y="310.62" width="6.2" height="31.12" fill="#000"/>
<line x1="183.9" y1="310.31" x2="183.9" y2="310.62" stroke="#6a6a6a" stroke-width="1.1"/>
<line x1="182.6" y1="310.81" x2="185.2" y2="310.81" stroke="#6a6a6a" stroke-width="1"/>
<rect x="190.8" y="333.35" width="6.2" height="8.4" fill="#000"/>
<line x1="193.9" y1="330.55" x2="193.9" y2="333.35" stroke="#6a6a6a" stroke-width="1.1"/>
<line x1="192.6" y1="331.05" x2="195.2" y2="331.05" stroke="#6a6a6a" stroke-width="1"/>
<rect x="200.8" y="313.43" width="6.2" height="28.32" fill="#000"/>
<line x1="203.9" y1="313.12" x2="203.9" y2="313.43" stroke="#6a6a6a" stroke-width="1.1"/>
<line x1="202.6" y1="313.62" x2="205.2" y2="313.62" stroke="#6a6a6a" stroke-width="1"/>
<line x1="183.5" y1="341.75" x2="183.5" y2="343.35" stroke="#999" stroke-width="0.8"/>
<line x1="193.5" y1="341.75" x2="193.5" y2="343.35" stroke="#999" stroke-width="0.8"/>
<line x1="203.5" y1="341.75" x2="203.5" y2="343.35" stroke="#999" stroke-width="0.8"/>
<line x1="213.5" y1="341.75" x2="213.5" y2="343.35" stroke="#999" stroke-width="0.8"/>
<rect x="180.8" y="398.35" width="6.2" height="12.4" fill="#000"/>
<line x1="183.9" y1="395.25" x2="183.9" y2="398.35" stroke="#6a6a6a" stroke-width="1.1"/>
<line x1="182.6" y1="395.75" x2="185.2" y2="395.75" stroke="#6a6a6a" stroke-width="1"/>
<rect x="190.8" y="378.51" width="6.2" height="32.24" fill="#000"/>
<line x1="193.9" y1="376.65" x2="193.9" y2="378.51" stroke="#6a6a6a" stroke-width="1.1"/>
<line x1="192.6" y1="377.15" x2="195.2" y2="377.15" stroke="#6a6a6a" stroke-width="1"/>
<rect x="200.8" y="408.89" width="6.2" height="1.86" fill="#000"/>
<line x1="203.9" y1="408.64" x2="203.9" y2="408.89" stroke="#6a6a6a" stroke-width="1.1"/>
<line x1="202.6" y1="409.14" x2="205.2" y2="409.14" stroke="#6a6a6a" stroke-width="1"/>
<rect x="210.8" y="402.07" width="6.2" height="8.68" fill="#000"/>
<line x1="213.9" y1="401.45" x2="213.9" y2="402.07" stroke="#6a6a6a" stroke-width="1.1"/>
<line x1="212.6" y1="401.95" x2="215.2" y2="401.95" stroke="#6a6a6a" stroke-width="1"/>
<line x1="183.5" y1="410.75" x2="183.5" y2="412.35" stroke="#999" stroke-width="0.8"/>
<line x1="193.5" y1="410.75" x2="193.5" y2="412.35" stroke="#999" stroke-width="0.8"/>
<line x1="203.5" y1="410.75" x2="203.5" y2="412.35" stroke="#999" stroke-width="0.8"/>
<line x1="213.5" y1="410.75" x2="213.5" y2="412.35" stroke="#999" stroke-width="0.8"/>
<rect x="180.8" y="451.87" width="6.2" height="28.63" fill="#000"/>
<line x1="183.9" y1="448.13" x2="183.9" y2="451.87" stroke="#6a6a6a" stroke-width="1.1"/>
<line x1="182.6" y1="448.63" x2="185.2" y2="448.63" stroke="#6a6a6a" stroke-width="1"/>
<rect x="190.8" y="473.65" width="6.2" height="6.85" fill="#000"/>
<line x1="193.9" y1="472.72" x2="193.9" y2="473.65" stroke="#6a6a6a" stroke-width="1.1"/>
<line x1="192.6" y1="473.22" x2="195.2" y2="473.22" stroke="#6a6a6a" stroke-width="1"/>
<rect x="200.8" y="453.42" width="6.2" height="27.08" fill="#000"/>
<line x1="203.9" y1="450" x2="203.9" y2="453.42" stroke="#6a6a6a" stroke-width="1.1"/>
<line x1="202.6" y1="450.5" x2="205.2" y2="450.5" stroke="#6a6a6a" stroke-width="1"/>
<rect x="210.8" y="479.57" width="6.2" height="0.93" fill="#000"/>
<line x1="183.5" y1="480.5" x2="183.5" y2="482.1" stroke="#999" stroke-width="0.8"/>
<line x1="193.5" y1="480.5" x2="193.5" y2="482.1" stroke="#999" stroke-width="0.8"/>
<line x1="203.5" y1="480.5" x2="203.5" y2="482.1" stroke="#999" stroke-width="0.8"/>
<line x1="213.5" y1="480.5" x2="213.5" y2="482.1" stroke="#999" stroke-width="0.8"/>
<line x1="194.5" y1="307.5" x2="214.3" y2="307.5" stroke="#666" stroke-width="1"/>
<line x1="194.5" y1="307.6" x2="194.5" y2="309.2" stroke="#666" stroke-width="0.9"/>
<line x1="214.5" y1="307.6" x2="214.5" y2="309.2" stroke="#666" stroke-width="0.9"/>
<circle cx="204.3" cy="303.4" r="1.55" fill="#111"/>
<line x1="194.5" y1="370.5" x2="214.3" y2="370.5" stroke="#666" stroke-width="1"/>
<line x1="194.5" y1="370.4" x2="194.5" y2="372" stroke="#666" stroke-width="0.9"/>
<line x1="214.5" y1="370.4" x2="214.5" y2="372" stroke="#666" stroke-width="0.9"/>
<circle cx="204.3" cy="366.2" r="1.55" fill="#111"/>
<line x1="193" y1="439.5" x2="213.3" y2="439.5" stroke="#666" stroke-width="1"/>
<line x1="192.5" y1="439.6" x2="192.5" y2="441.2" stroke="#666" stroke-width="0.9"/>
<line x1="213.5" y1="439.6" x2="213.5" y2="441.2" stroke="#666" stroke-width="0.9"/>
<circle cx="203.2" cy="435.4" r="1.55" fill="#111"/>
<text x="37.6" y="493.66" font-size="7.2" text-anchor="end" fill="#1a1a1a" font-weight="bold" stroke="#1a1a1a" stroke-width="0.32">GPX4</text>
<text x="37.6" y="506.96" font-size="7.2" text-anchor="end" fill="#1a1a1a" font-weight="bold" stroke="#1a1a1a" stroke-width="0.32">HSPA5</text>
<text x="37.6" y="520.36" font-size="7.2" text-anchor="end" fill="#1a1a1a" font-weight="bold" stroke="#1a1a1a" stroke-width="0.32">ACTB</text>
<text x="172.6" y="493.66" font-size="7.2" text-anchor="end" fill="#1a1a1a" font-weight="bold" stroke="#1a1a1a" stroke-width="0.32">GPX4</text>
<text x="172.6" y="506.96" font-size="7.2" text-anchor="end" fill="#1a1a1a" font-weight="bold" stroke="#1a1a1a" stroke-width="0.32">ATF4</text>
<text x="172.6" y="520.36" font-size="7.2" text-anchor="end" fill="#1a1a1a" font-weight="bold" stroke="#1a1a1a" stroke-width="0.32">ACTB</text>
<rect x="40.6" y="486.2" width="37.6" height="9.8" fill="#888888" stroke="#454545" stroke-width="1.1"/>
<g filter="url(#bl)"><rect x="42.23" y="489.65" width="7.5" height="2.9" rx="1.6" ry="1.45" fill="#050505" fill-opacity="0.95"/><rect x="51.17" y="489.65" width="7.5" height="2.9" rx="1.6" ry="1.45" fill="#050505" fill-opacity="0.75"/><rect x="60.12" y="489.65" width="7.5" height="2.9" rx="1.6" ry="1.45" fill="#050505" fill-opacity="0.95"/><rect x="69.07" y="489.65" width="7.5" height="2.9" rx="1.6" ry="1.45" fill="#050505" fill-opacity="0.45"/></g>
<rect x="40.6" y="499.4" width="37.6" height="9.8" fill="#888888" stroke="#454545" stroke-width="1.1"/>
<g filter="url(#bl)"><rect x="42.48" y="503" width="7" height="2.6" rx="1.6" ry="1.3" fill="#050505" fill-opacity="0.45"/><rect x="51.42" y="503" width="7" height="2.6" rx="1.6" ry="1.3" fill="#050505" fill-opacity="0.95"/><rect x="60.38" y="503" width="7" height="2.6" rx="1.6" ry="1.3" fill="#050505" fill-opacity="0.15"/><rect x="69.32" y="503" width="7" height="2.6" rx="1.6" ry="1.3" fill="#050505" fill-opacity="0.2"/></g>
<rect x="40.6" y="512.6" width="37.6" height="10.2" fill="#888888" stroke="#454545" stroke-width="1.1"/>
<g filter="url(#bl)"><rect x="41.98" y="516.25" width="8" height="2.9" rx="1.6" ry="1.45" fill="#050505" fill-opacity="0.9"/><rect x="50.92" y="516.25" width="8" height="2.9" rx="1.6" ry="1.45" fill="#050505" fill-opacity="0.9"/><rect x="59.88" y="516.25" width="8" height="2.9" rx="1.6" ry="1.45" fill="#050505" fill-opacity="0.9"/><rect x="68.82" y="516.25" width="8" height="2.9" rx="1.6" ry="1.45" fill="#050505" fill-opacity="0.9"/></g>
<rect x="81.9" y="486.2" width="56.3" height="9.8" fill="#888888" stroke="#454545" stroke-width="1.1"/>
<g filter="url(#bl)"><rect x="83.84" y="489.65" width="7" height="2.9" rx="1.6" ry="1.45" fill="#050505" fill-opacity="0.85"/><rect x="92.92" y="489.65" width="7" height="2.9" rx="1.6" ry="1.45" fill="#050505" fill-opacity="0.5"/><rect x="102.01" y="489.65" width="7" height="2.9" rx="1.6" ry="1.45" fill="#050505" fill-opacity="0.65"/><rect x="111.09" y="489.65" width="7" height="2.9" rx="1.6" ry="1.45" fill="#050505" fill-opacity="0.0"/><rect x="120.18" y="489.65" width="7" height="2.9" rx="1.6" ry="1.45" fill="#050505" fill-opacity="0.4"/><rect x="129.26" y="489.65" width="7" height="2.9" rx="1.6" ry="1.45" fill="#050505" fill-opacity="0.04"/></g>
<rect x="81.9" y="499.4" width="56.3" height="9.8" fill="#888888" stroke="#454545" stroke-width="1.1"/>
<g filter="url(#bl)"><rect x="84.34" y="503" width="6" height="2.6" rx="1.5" ry="1.3" fill="#050505" fill-opacity="0.35"/><rect x="93.42" y="503" width="6" height="2.6" rx="1.5" ry="1.3" fill="#050505" fill-opacity="0.85"/><rect x="102.51" y="503" width="6" height="2.6" rx="1.5" ry="1.3" fill="#050505" fill-opacity="0.0"/><rect x="111.59" y="503" width="6" height="2.6" rx="1.5" ry="1.3" fill="#050505" fill-opacity="0.0"/><rect x="120.68" y="503" width="6" height="2.6" rx="1.5" ry="1.3" fill="#050505" fill-opacity="0.0"/><rect x="129.76" y="503" width="6" height="2.6" rx="1.5" ry="1.3" fill="#050505" fill-opacity="0.0"/></g>
<rect x="81.9" y="512.6" width="56.3" height="10.2" fill="#888888" stroke="#454545" stroke-width="1.1"/>
<g filter="url(#bl)"><rect x="82.94" y="515.7" width="8.8" height="4" rx="1.6" ry="2" fill="#050505" fill-opacity="0.95"/><rect x="92.02" y="515.7" width="8.8" height="4" rx="1.6" ry="2" fill="#050505" fill-opacity="0.95"/><rect x="101.11" y="515.7" width="8.8" height="4" rx="1.6" ry="2" fill="#050505" fill-opacity="0.95"/><rect x="110.19" y="515.7" width="8.8" height="4" rx="1.6" ry="2" fill="#050505" fill-opacity="0.95"/><rect x="119.28" y="515.7" width="8.8" height="4" rx="1.6" ry="2" fill="#050505" fill-opacity="0.9"/><rect x="128.36" y="515.7" width="8.8" height="4" rx="1.6" ry="2" fill="#050505" fill-opacity="0.8"/></g>
<rect x="180.1" y="486.2" width="38.8" height="9.8" fill="#888888" stroke="#454545" stroke-width="1.1"/>
<g filter="url(#bl)"><rect x="181.88" y="489.65" width="7.5" height="2.9" rx="1.6" ry="1.45" fill="#050505" fill-opacity="0.7"/><rect x="191.12" y="489.65" width="7.5" height="2.9" rx="1.6" ry="1.45" fill="#050505" fill-opacity="0.4"/><rect x="200.38" y="489.65" width="7.5" height="2.9" rx="1.6" ry="1.45" fill="#050505" fill-opacity="0.6"/><rect x="209.62" y="489.65" width="7.5" height="2.9" rx="1.6" ry="1.45" fill="#050505" fill-opacity="0.0"/></g>
<rect x="180.1" y="499.4" width="38.8" height="9.8" fill="#888888" stroke="#454545" stroke-width="1.1"/>
<g filter="url(#bl)"><rect x="181.88" y="502.85" width="7.5" height="2.9" rx="1.6" ry="1.45" fill="#050505" fill-opacity="0.45"/><rect x="191.12" y="502.85" width="7.5" height="2.9" rx="1.6" ry="1.45" fill="#050505" fill-opacity="0.9"/><rect x="200.38" y="502.85" width="7.5" height="2.9" rx="1.6" ry="1.45" fill="#050505" fill-opacity="0.2"/><rect x="209.62" y="502.85" width="7.5" height="2.9" rx="1.6" ry="1.45" fill="#050505" fill-opacity="0.6"/></g>
<rect x="180.1" y="512.6" width="38.8" height="10.2" fill="#888888" stroke="#454545" stroke-width="1.1"/>
<g filter="url(#bl)"><rect x="181.38" y="516.25" width="8.5" height="2.9" rx="1.6" ry="1.45" fill="#050505" fill-opacity="0.9"/><rect x="190.62" y="516.25" width="8.5" height="2.9" rx="1.6" ry="1.45" fill="#050505" fill-opacity="0.9"/><rect x="199.88" y="516.25" width="8.5" height="2.9" rx="1.6" ry="1.45" fill="#050505" fill-opacity="0.9"/><rect x="209.12" y="516.25" width="8.5" height="2.9" rx="1.6" ry="1.45" fill="#050505" fill-opacity="0.9"/></g>
<text x="37.2" y="531.95" font-size="6.9" text-anchor="end" fill="#1a1a1a" font-weight="bold" stroke="#1a1a1a" stroke-width="0.32">Erastin</text>
<text x="175.6" y="531.75" font-size="6.9" text-anchor="end" fill="#1a1a1a" font-weight="bold" stroke="#1a1a1a" stroke-width="0.32">Erastin</text>
<text x="47.7" y="531.88" font-size="7" text-anchor="middle" fill="#1a1a1a" font-weight="bold" stroke="#1a1a1a" stroke-width="0.32">-</text>
<text x="56.2" y="531.88" font-size="7" text-anchor="middle" fill="#1a1a1a" font-weight="bold" stroke="#1a1a1a" stroke-width="0.32">+</text>
<text x="65.7" y="531.88" font-size="7" text-anchor="middle" fill="#1a1a1a" font-weight="bold" stroke="#1a1a1a" stroke-width="0.32">-</text>
<text x="74.1" y="531.88" font-size="7" text-anchor="middle" fill="#1a1a1a" font-weight="bold" stroke="#1a1a1a" stroke-width="0.32">+</text>
<text x="86.8" y="531.88" font-size="7" text-anchor="middle" fill="#1a1a1a" font-weight="bold" stroke="#1a1a1a" stroke-width="0.32">-</text>
<text x="95.3" y="531.88" font-size="7" text-anchor="middle" fill="#1a1a1a" font-weight="bold" stroke="#1a1a1a" stroke-width="0.32">+</text>
<text x="106.9" y="531.88" font-size="7" text-anchor="middle" fill="#1a1a1a" font-weight="bold" stroke="#1a1a1a" stroke-width="0.32">-</text>
<text x="115.4" y="531.88" font-size="7" text-anchor="middle" fill="#1a1a1a" font-weight="bold" stroke="#1a1a1a" stroke-width="0.32">+</text>
<text x="124.9" y="531.88" font-size="7" text-anchor="middle" fill="#1a1a1a" font-weight="bold" stroke="#1a1a1a" stroke-width="0.32">-</text>
<text x="133" y="531.88" font-size="7" text-anchor="middle" fill="#1a1a1a" font-weight="bold" stroke="#1a1a1a" stroke-width="0.32">+</text>
<text x="185" y="531.88" font-size="7" text-anchor="middle" fill="#1a1a1a" font-weight="bold" stroke="#1a1a1a" stroke-width="0.32">-</text>
<text x="194.5" y="531.88" font-size="7" text-anchor="middle" fill="#1a1a1a" font-weight="bold" stroke="#1a1a1a" stroke-width="0.32">+</text>
<text x="203.8" y="531.88" font-size="7" text-anchor="middle" fill="#1a1a1a" font-weight="bold" stroke="#1a1a1a" stroke-width="0.32">-</text>
<text x="212.2" y="531.88" font-size="7" text-anchor="middle" fill="#1a1a1a" font-weight="bold" stroke="#1a1a1a" stroke-width="0.32">+</text>
<line x1="43" y1="534.5" x2="58.3" y2="534.5" stroke="#444" stroke-width="0.9"/>
<line x1="62.1" y1="534.5" x2="77.3" y2="534.5" stroke="#444" stroke-width="0.9"/>
<line x1="84.7" y1="534.5" x2="99.5" y2="534.5" stroke="#444" stroke-width="0.9"/>
<line x1="103.8" y1="534.5" x2="119.2" y2="534.5" stroke="#444" stroke-width="0.9"/>
<line x1="122.8" y1="534.5" x2="138.7" y2="534.5" stroke="#444" stroke-width="0.9"/>
<line x1="182.5" y1="534.5" x2="197.5" y2="534.5" stroke="#444" stroke-width="0.9"/>
<line x1="201.8" y1="534.5" x2="216.3" y2="534.5" stroke="#444" stroke-width="0.9"/>
<text transform="translate(53,538.9) rotate(-90)" x="0" y="2.56" font-size="7.2" text-anchor="end" fill="#1a1a1a" font-weight="bold" stroke="#1a1a1a" stroke-width="0.32">Ctrl sh</text>
<text transform="translate(69.2,538.9) rotate(-90)" x="0" y="2.56" font-size="7.2" text-anchor="end" fill="#1a1a1a" font-weight="bold" stroke="#1a1a1a" stroke-width="0.32">HSPA5 sh (1)</text>
<text transform="translate(92.2,538.9) rotate(-90)" x="0" y="2.56" font-size="7.2" text-anchor="end" fill="#1a1a1a" font-weight="bold" stroke="#1a1a1a" stroke-width="0.32">Ctrl sh</text>
<text transform="translate(112.2,538.9) rotate(-90)" x="0" y="2.56" font-size="7.2" text-anchor="end" fill="#1a1a1a" font-weight="bold" stroke="#1a1a1a" stroke-width="0.32">HSPA5 sh (1)</text>
<text transform="translate(131.3,538.9) rotate(-90)" x="0" y="2.56" font-size="7.2" text-anchor="end" fill="#1a1a1a" font-weight="bold" stroke="#1a1a1a" stroke-width="0.32">HSPA5 sh (2)</text>
<text transform="translate(194.5,538.9) rotate(-90)" x="0" y="2.56" font-size="7.2" text-anchor="end" fill="#1a1a1a" font-weight="bold" stroke="#1a1a1a" stroke-width="0.32">Ctrl sh</text>
<text transform="translate(210,538.9) rotate(-90)" x="0" y="2.56" font-size="7.2" text-anchor="end" fill="#1a1a1a" font-weight="bold" stroke="#1a1a1a" stroke-width="0.32">ATF4 sh (1)</text>
<text x="256.5" y="281.76" font-size="12" text-anchor="middle" fill="#1a1a1a" font-weight="bold" stroke="#1a1a1a" stroke-width="0.32">E</text>
<rect x="288.5" y="279.5" width="50" height="62" fill="none" stroke="#7a7a7a" stroke-width="0.9"/>
<rect x="288.5" y="348.5" width="50" height="62" fill="none" stroke="#7a7a7a" stroke-width="0.9"/>
<rect x="288.5" y="418.5" width="50" height="62" fill="none" stroke="#7a7a7a" stroke-width="0.9"/>
<text x="283.5" y="281.99" font-size="7" text-anchor="end" fill="#2e2e2e" font-weight="bold" stroke="#2e2e2e" stroke-width="0.12">2.0</text>
<text x="283.5" y="297.55" font-size="7" text-anchor="end" fill="#2e2e2e" font-weight="bold" stroke="#2e2e2e" stroke-width="0.12">1.5</text>
<text x="283.5" y="313.11" font-size="7" text-anchor="end" fill="#2e2e2e" font-weight="bold" stroke="#2e2e2e" stroke-width="0.12">1.0</text>
<text x="283.5" y="328.67" font-size="7" text-anchor="end" fill="#2e2e2e" font-weight="bold" stroke="#2e2e2e" stroke-width="0.12">.5</text>
<text x="283.5" y="344.24" font-size="7" text-anchor="end" fill="#2e2e2e" font-weight="bold" stroke="#2e2e2e" stroke-width="0.12">0.0</text>
<text x="283.5" y="351.24" font-size="7" text-anchor="end" fill="#2e2e2e" font-weight="bold" stroke="#2e2e2e" stroke-width="0.12">8</text>
<text x="283.5" y="366.74" font-size="7" text-anchor="end" fill="#2e2e2e" font-weight="bold" stroke="#2e2e2e" stroke-width="0.12">6</text>
<text x="283.5" y="382.24" font-size="7" text-anchor="end" fill="#2e2e2e" font-weight="bold" stroke="#2e2e2e" stroke-width="0.12">4</text>
<text x="283.5" y="397.74" font-size="7" text-anchor="end" fill="#2e2e2e" font-weight="bold" stroke="#2e2e2e" stroke-width="0.12">2</text>
<text x="283.5" y="413.24" font-size="7" text-anchor="end" fill="#2e2e2e" font-weight="bold" stroke="#2e2e2e" stroke-width="0.12">0</text>
<text x="283.5" y="420.74" font-size="7" text-anchor="end" fill="#2e2e2e" font-weight="bold" stroke="#2e2e2e" stroke-width="0.12">20</text>
<text x="283.5" y="436.3" font-size="7" text-anchor="end" fill="#2e2e2e" font-weight="bold" stroke="#2e2e2e" stroke-width="0.12">15</text>
<text x="283.5" y="451.86" font-size="7" text-anchor="end" fill="#2e2e2e" font-weight="bold" stroke="#2e2e2e" stroke-width="0.12">10</text>
<text x="283.5" y="467.42" font-size="7" text-anchor="end" fill="#2e2e2e" font-weight="bold" stroke="#2e2e2e" stroke-width="0.12">5</text>
<text x="283.5" y="482.99" font-size="7" text-anchor="end" fill="#2e2e2e" font-weight="bold" stroke="#2e2e2e" stroke-width="0.12">0</text>
<text transform="translate(265.9,310.5) rotate(-90)" x="0" y="2.63" font-size="7.4" text-anchor="middle" fill="#1a1a1a" font-weight="bold" stroke="#1a1a1a" stroke-width="0.32">GPX4 Protein</text>
<text transform="translate(266.6,377.8) rotate(-90)" x="0" y="2.63" font-size="7.4" text-anchor="middle" fill="#1a1a1a" font-weight="bold" stroke="#1a1a1a" stroke-width="0.32">HSPA5 Protein</text>
<text transform="translate(261.8,450.4) rotate(-90)" x="0" y="2.64" font-size="7.45" text-anchor="middle" fill="#1a1a1a" font-weight="bold" stroke="#1a1a1a" stroke-width="0.32">GPX4 Activity</text>
<text transform="translate(271.3,450.2) rotate(-90)" x="0" y="2.66" font-size="7.5" text-anchor="middle" fill="#1a1a1a" font-weight="bold" stroke="#1a1a1a" stroke-width="0.32">(U/mg total protein)</text>
<text x="313.2" y="288.19" font-size="7.3" text-anchor="middle" fill="#1a1a1a" font-weight="bold" stroke="#1a1a1a" stroke-width="0.32">MiaPaCa2</text>
<rect x="295" y="310.62" width="5.8" height="31.12" fill="#000"/>
<line x1="297.9" y1="310" x2="297.9" y2="310.62" stroke="#6a6a6a" stroke-width="1.1"/>
<line x1="296.6" y1="310.5" x2="299.2" y2="310.5" stroke="#6a6a6a" stroke-width="1"/>
<rect x="305" y="337.7" width="5.8" height="4.05" fill="#000"/>
<line x1="307.9" y1="334.59" x2="307.9" y2="337.7" stroke="#6a6a6a" stroke-width="1.1"/>
<line x1="306.6" y1="335.09" x2="309.2" y2="335.09" stroke="#6a6a6a" stroke-width="1"/>
<rect x="315" y="310.62" width="5.8" height="31.12" fill="#000"/>
<line x1="317.9" y1="310" x2="317.9" y2="310.62" stroke="#6a6a6a" stroke-width="1.1"/>
<line x1="316.6" y1="310.5" x2="319.2" y2="310.5" stroke="#6a6a6a" stroke-width="1"/>
<rect x="325" y="314.98" width="5.8" height="26.77" fill="#000"/>
<line x1="327.9" y1="313.74" x2="327.9" y2="314.98" stroke="#6a6a6a" stroke-width="1.1"/>
<line x1="326.6" y1="314.24" x2="329.2" y2="314.24" stroke="#6a6a6a" stroke-width="1"/>
<line x1="297.5" y1="341.75" x2="297.5" y2="343.35" stroke="#999" stroke-width="0.8"/>
<line x1="307.5" y1="341.75" x2="307.5" y2="343.35" stroke="#999" stroke-width="0.8"/>
<line x1="317.5" y1="341.75" x2="317.5" y2="343.35" stroke="#999" stroke-width="0.8"/>
<line x1="327.5" y1="341.75" x2="327.5" y2="343.35" stroke="#999" stroke-width="0.8"/>
<rect x="295" y="403" width="5.8" height="7.75" fill="#000"/>
<line x1="297.9" y1="402.85" x2="297.9" y2="403" stroke="#6a6a6a" stroke-width="1.1"/>
<line x1="296.6" y1="403.35" x2="299.2" y2="403.35" stroke="#6a6a6a" stroke-width="1"/>
<rect x="305" y="388.27" width="5.8" height="22.48" fill="#000"/>
<line x1="307.9" y1="383.62" x2="307.9" y2="388.27" stroke="#6a6a6a" stroke-width="1.1"/>
<line x1="306.6" y1="384.12" x2="309.2" y2="384.12" stroke="#6a6a6a" stroke-width="1"/>
<rect x="315" y="390.21" width="5.8" height="20.54" fill="#000"/>
<line x1="317.9" y1="390.06" x2="317.9" y2="390.21" stroke="#6a6a6a" stroke-width="1.1"/>
<line x1="316.6" y1="390.56" x2="319.2" y2="390.56" stroke="#6a6a6a" stroke-width="1"/>
<rect x="325" y="375.1" width="5.8" height="35.65" fill="#000"/>
<line x1="327.9" y1="373.16" x2="327.9" y2="375.1" stroke="#6a6a6a" stroke-width="1.1"/>
<line x1="326.6" y1="373.66" x2="329.2" y2="373.66" stroke="#6a6a6a" stroke-width="1"/>
<line x1="297.5" y1="410.75" x2="297.5" y2="412.35" stroke="#999" stroke-width="0.8"/>
<line x1="307.5" y1="410.75" x2="307.5" y2="412.35" stroke="#999" stroke-width="0.8"/>
<line x1="317.5" y1="410.75" x2="317.5" y2="412.35" stroke="#999" stroke-width="0.8"/>
<line x1="327.5" y1="410.75" x2="327.5" y2="412.35" stroke="#999" stroke-width="0.8"/>
<rect x="295" y="442.22" width="5.8" height="38.28" fill="#000"/>
<line x1="297.9" y1="440.04" x2="297.9" y2="442.22" stroke="#6a6a6a" stroke-width="1.1"/>
<line x1="296.6" y1="440.54" x2="299.2" y2="440.54" stroke="#6a6a6a" stroke-width="1"/>
<rect x="305" y="471.79" width="5.8" height="8.71" fill="#000"/>
<line x1="307.9" y1="469.92" x2="307.9" y2="471.79" stroke="#6a6a6a" stroke-width="1.1"/>
<line x1="306.6" y1="470.42" x2="309.2" y2="470.42" stroke="#6a6a6a" stroke-width="1"/>
<rect x="315" y="440.04" width="5.8" height="40.46" fill="#000"/>
<line x1="317.9" y1="436.93" x2="317.9" y2="440.04" stroke="#6a6a6a" stroke-width="1.1"/>
<line x1="316.6" y1="437.43" x2="319.2" y2="437.43" stroke="#6a6a6a" stroke-width="1"/>
<rect x="325" y="449.69" width="5.8" height="30.81" fill="#000"/>
<line x1="327.9" y1="446.57" x2="327.9" y2="449.69" stroke="#6a6a6a" stroke-width="1.1"/>
<line x1="326.6" y1="447.07" x2="329.2" y2="447.07" stroke="#6a6a6a" stroke-width="1"/>
<line x1="297.5" y1="480.5" x2="297.5" y2="482.1" stroke="#999" stroke-width="0.8"/>
<line x1="307.5" y1="480.5" x2="307.5" y2="482.1" stroke="#999" stroke-width="0.8"/>
<line x1="317.5" y1="480.5" x2="317.5" y2="482.1" stroke="#999" stroke-width="0.8"/>
<line x1="327.5" y1="480.5" x2="327.5" y2="482.1" stroke="#999" stroke-width="0.8"/>
<line x1="308.3" y1="303.5" x2="327.5" y2="303.5" stroke="#666" stroke-width="1"/>
<line x1="308.5" y1="303.4" x2="308.5" y2="305" stroke="#666" stroke-width="0.9"/>
<line x1="327.5" y1="303.4" x2="327.5" y2="305" stroke="#666" stroke-width="0.9"/>
<circle cx="318" cy="299.2" r="1.55" fill="#111"/>
<line x1="308.3" y1="365.5" x2="327.5" y2="365.5" stroke="#666" stroke-width="1"/>
<line x1="308.5" y1="365.4" x2="308.5" y2="367" stroke="#666" stroke-width="0.9"/>
<line x1="327.5" y1="365.4" x2="327.5" y2="367" stroke="#666" stroke-width="0.9"/>
<circle cx="318" cy="361.2" r="1.55" fill="#111"/>
<line x1="308.8" y1="432.5" x2="328.8" y2="432.5" stroke="#666" stroke-width="1"/>
<line x1="308.5" y1="432.1" x2="308.5" y2="433.7" stroke="#666" stroke-width="0.9"/>
<line x1="328.5" y1="432.1" x2="328.5" y2="433.7" stroke="#666" stroke-width="0.9"/>
<circle cx="318.8" cy="427.9" r="1.55" fill="#111"/>
<rect x="293.1" y="485.1" width="39.3" height="9.9" fill="#888888" stroke="#454545" stroke-width="1.1"/>
<g filter="url(#bl)"><rect x="294.69" y="488.6" width="8" height="2.9" rx="1.6" ry="1.45" fill="#050505" fill-opacity="0.95"/><rect x="304.06" y="488.6" width="8" height="2.9" rx="1.6" ry="1.45" fill="#050505" fill-opacity="0.12"/><rect x="313.44" y="488.6" width="8" height="2.9" rx="1.6" ry="1.45" fill="#050505" fill-opacity="0.9"/><rect x="322.81" y="488.6" width="8" height="2.9" rx="1.6" ry="1.45" fill="#050505" fill-opacity="0.9"/></g>
<rect x="293.1" y="498.6" width="39.3" height="9.6" fill="#888888" stroke="#454545" stroke-width="1.1"/>
<g filter="url(#bl)"><rect x="294.69" y="501.95" width="8" height="2.9" rx="1.6" ry="1.45" fill="#050505" fill-opacity="0.3"/><rect x="304.06" y="501.95" width="8" height="2.9" rx="1.6" ry="1.45" fill="#050505" fill-opacity="0.85"/><rect x="313.44" y="501.95" width="8" height="2.9" rx="1.6" ry="1.45" fill="#050505" fill-opacity="0.85"/><rect x="322.81" y="501.95" width="8" height="2.9" rx="1.6" ry="1.45" fill="#050505" fill-opacity="0.95"/></g>
<rect x="293.1" y="511.9" width="39.3" height="9.6" fill="#888888" stroke="#454545" stroke-width="1.1"/>
<g filter="url(#bl)"><rect x="294.44" y="515.25" width="8.5" height="2.9" rx="1.6" ry="1.45" fill="#050505" fill-opacity="0.9"/><rect x="303.81" y="515.25" width="8.5" height="2.9" rx="1.6" ry="1.45" fill="#050505" fill-opacity="0.9"/><rect x="313.19" y="515.25" width="8.5" height="2.9" rx="1.6" ry="1.45" fill="#050505" fill-opacity="0.9"/><rect x="322.56" y="515.25" width="8.5" height="2.9" rx="1.6" ry="1.45" fill="#050505" fill-opacity="0.9"/></g>
<text x="288.8" y="492.66" font-size="7.2" text-anchor="end" fill="#1a1a1a" font-weight="bold" stroke="#1a1a1a" stroke-width="0.32">GPX4</text>
<text x="288.8" y="505.96" font-size="7.2" text-anchor="end" fill="#1a1a1a" font-weight="bold" stroke="#1a1a1a" stroke-width="0.32">HSPA5</text>
<text x="288.8" y="519.26" font-size="7.2" text-anchor="end" fill="#1a1a1a" font-weight="bold" stroke="#1a1a1a" stroke-width="0.32">ACTB</text>
<text x="289.6" y="530.55" font-size="6.9" text-anchor="end" fill="#1a1a1a" font-weight="bold" stroke="#1a1a1a" stroke-width="0.32">Erastin</text>
<text x="300" y="530.49" font-size="7" text-anchor="middle" fill="#1a1a1a" font-weight="bold" stroke="#1a1a1a" stroke-width="0.32">-</text>
<text x="309.5" y="530.49" font-size="7" text-anchor="middle" fill="#1a1a1a" font-weight="bold" stroke="#1a1a1a" stroke-width="0.32">+</text>
<text x="318" y="530.49" font-size="7" text-anchor="middle" fill="#1a1a1a" font-weight="bold" stroke="#1a1a1a" stroke-width="0.32">-</text>
<text x="327" y="530.49" font-size="7" text-anchor="middle" fill="#1a1a1a" font-weight="bold" stroke="#1a1a1a" stroke-width="0.32">+</text>
<line x1="296.3" y1="533.5" x2="312" y2="533.5" stroke="#444" stroke-width="0.9"/>
<line x1="315" y1="533.5" x2="330.5" y2="533.5" stroke="#444" stroke-width="0.9"/>
<text transform="translate(305.3,538.2) rotate(-90)" x="0" y="2.61" font-size="7.35" text-anchor="end" fill="#1a1a1a" font-weight="bold" stroke="#1a1a1a" stroke-width="0.32">Ctrl</text>
<text transform="translate(322.4,538.2) rotate(-90)" x="0" y="2.64" font-size="7.45" text-anchor="end" fill="#1a1a1a" font-weight="bold" stroke="#1a1a1a" stroke-width="0.32">HSPA5 cDNA</text>
<text x="377.5" y="282.46" font-size="12" text-anchor="middle" fill="#1a1a1a" font-weight="bold" stroke="#1a1a1a" stroke-width="0.32">G</text>
<rect x="399.5" y="280.5" width="75" height="62" fill="none" stroke="#7a7a7a" stroke-width="0.9"/>
<rect x="399.5" y="348.5" width="75" height="63" fill="none" stroke="#7a7a7a" stroke-width="0.9"/>
<rect x="399.5" y="418.5" width="75" height="62" fill="none" stroke="#7a7a7a" stroke-width="0.9"/>
<text x="395.2" y="344.99" font-size="7" text-anchor="end" fill="#2e2e2e" font-weight="bold" stroke="#2e2e2e" stroke-width="0.12">0</text>
<text x="395.2" y="334.59" font-size="7" text-anchor="end" fill="#2e2e2e" font-weight="bold" stroke="#2e2e2e" stroke-width="0.12">20</text>
<text x="395.2" y="324.19" font-size="7" text-anchor="end" fill="#2e2e2e" font-weight="bold" stroke="#2e2e2e" stroke-width="0.12">40</text>
<text x="395.2" y="313.79" font-size="7" text-anchor="end" fill="#2e2e2e" font-weight="bold" stroke="#2e2e2e" stroke-width="0.12">60</text>
<text x="395.2" y="303.38" font-size="7" text-anchor="end" fill="#2e2e2e" font-weight="bold" stroke="#2e2e2e" stroke-width="0.12">80</text>
<text x="395.2" y="292.99" font-size="7" text-anchor="end" fill="#2e2e2e" font-weight="bold" stroke="#2e2e2e" stroke-width="0.12">100</text>
<text x="395.2" y="351.38" font-size="7" text-anchor="end" fill="#2e2e2e" font-weight="bold" stroke="#2e2e2e" stroke-width="0.12">2.0</text>
<text x="395.2" y="366.96" font-size="7" text-anchor="end" fill="#2e2e2e" font-weight="bold" stroke="#2e2e2e" stroke-width="0.12">1.5</text>
<text x="395.2" y="382.53" font-size="7" text-anchor="end" fill="#2e2e2e" font-weight="bold" stroke="#2e2e2e" stroke-width="0.12">1.0</text>
<text x="395.2" y="398.11" font-size="7" text-anchor="end" fill="#2e2e2e" font-weight="bold" stroke="#2e2e2e" stroke-width="0.12">.5</text>
<text x="395.2" y="413.69" font-size="7" text-anchor="end" fill="#2e2e2e" font-weight="bold" stroke="#2e2e2e" stroke-width="0.12">0.0</text>
<text x="395.2" y="421.19" font-size="7" text-anchor="end" fill="#2e2e2e" font-weight="bold" stroke="#2e2e2e" stroke-width="0.12">20</text>
<text x="395.2" y="436.71" font-size="7" text-anchor="end" fill="#2e2e2e" font-weight="bold" stroke="#2e2e2e" stroke-width="0.12">15</text>
<text x="395.2" y="452.24" font-size="7" text-anchor="end" fill="#2e2e2e" font-weight="bold" stroke="#2e2e2e" stroke-width="0.12">10</text>
<text x="395.2" y="467.76" font-size="7" text-anchor="end" fill="#2e2e2e" font-weight="bold" stroke="#2e2e2e" stroke-width="0.12">5</text>
<text x="395.2" y="483.29" font-size="7" text-anchor="end" fill="#2e2e2e" font-weight="bold" stroke="#2e2e2e" stroke-width="0.12">0</text>
<text transform="translate(377.9,316) rotate(-90)" x="0" y="2.63" font-size="7.4" text-anchor="middle" fill="#1a1a1a" font-weight="bold" stroke="#1a1a1a" stroke-width="0.32">Cell Viability (%)</text>
<text transform="translate(378.6,379.2) rotate(-90)" x="0" y="2.63" font-size="7.4" text-anchor="middle" fill="#1a1a1a" font-weight="bold" stroke="#1a1a1a" stroke-width="0.32">GPX4 Protein</text>
<text transform="translate(371.3,452) rotate(-90)" x="0" y="2.63" font-size="7.4" text-anchor="middle" fill="#1a1a1a" font-weight="bold" stroke="#1a1a1a" stroke-width="0.32">GPX4 Activity</text>
<text transform="translate(379.8,451) rotate(-90)" x="0" y="2.59" font-size="7.3" text-anchor="middle" fill="#1a1a1a" font-weight="bold" stroke="#1a1a1a" stroke-width="0.32">(U/mg total protein)</text>
<rect x="406.3" y="290.5" width="7" height="52" fill="#000"/>
<line x1="409.8" y1="289.98" x2="409.8" y2="290.5" stroke="#6a6a6a" stroke-width="1.1"/>
<line x1="408.5" y1="290.48" x2="411.1" y2="290.48" stroke="#6a6a6a" stroke-width="1"/>
<rect x="416.9" y="323.78" width="7" height="18.72" fill="#000"/>
<line x1="420.4" y1="321.18" x2="420.4" y2="323.78" stroke="#6a6a6a" stroke-width="1.1"/>
<line x1="419.1" y1="321.68" x2="421.7" y2="321.68" stroke="#6a6a6a" stroke-width="1"/>
<rect x="428" y="299.86" width="7" height="42.64" fill="#000"/>
<line x1="431.5" y1="294.14" x2="431.5" y2="299.86" stroke="#6a6a6a" stroke-width="1.1"/>
<line x1="430.2" y1="294.64" x2="432.8" y2="294.64" stroke="#6a6a6a" stroke-width="1"/>
<rect x="438.8" y="290.5" width="7" height="52" fill="#000"/>
<line x1="442.3" y1="289.98" x2="442.3" y2="290.5" stroke="#6a6a6a" stroke-width="1.1"/>
<line x1="441" y1="290.48" x2="443.6" y2="290.48" stroke="#6a6a6a" stroke-width="1"/>
<rect x="449.3" y="326.38" width="7" height="16.12" fill="#000"/>
<line x1="452.8" y1="322.74" x2="452.8" y2="326.38" stroke="#6a6a6a" stroke-width="1.1"/>
<line x1="451.5" y1="323.24" x2="454.1" y2="323.24" stroke="#6a6a6a" stroke-width="1"/>
<rect x="460" y="302.46" width="7" height="40.04" fill="#000"/>
<line x1="463.5" y1="300.9" x2="463.5" y2="302.46" stroke="#6a6a6a" stroke-width="1.1"/>
<line x1="462.2" y1="301.4" x2="464.8" y2="301.4" stroke="#6a6a6a" stroke-width="1"/>
<line x1="409.5" y1="342.5" x2="409.5" y2="344.1" stroke="#999" stroke-width="0.8"/>
<line x1="420.5" y1="342.5" x2="420.5" y2="344.1" stroke="#999" stroke-width="0.8"/>
<line x1="431.5" y1="342.5" x2="431.5" y2="344.1" stroke="#999" stroke-width="0.8"/>
<line x1="442.5" y1="342.5" x2="442.5" y2="344.1" stroke="#999" stroke-width="0.8"/>
<line x1="452.5" y1="342.5" x2="452.5" y2="344.1" stroke="#999" stroke-width="0.8"/>
<line x1="463.5" y1="342.5" x2="463.5" y2="344.1" stroke="#999" stroke-width="0.8"/>
<rect x="406.3" y="380.05" width="7" height="31.15" fill="#000"/>
<line x1="409.8" y1="379.74" x2="409.8" y2="380.05" stroke="#6a6a6a" stroke-width="1.1"/>
<line x1="408.5" y1="380.24" x2="411.1" y2="380.24" stroke="#6a6a6a" stroke-width="1"/>
<rect x="416.9" y="400.92" width="7" height="10.28" fill="#000"/>
<line x1="420.4" y1="400.61" x2="420.4" y2="400.92" stroke="#6a6a6a" stroke-width="1.1"/>
<line x1="419.1" y1="401.11" x2="421.7" y2="401.11" stroke="#6a6a6a" stroke-width="1"/>
<rect x="428" y="382.23" width="7" height="28.97" fill="#000"/>
<line x1="431.5" y1="381.61" x2="431.5" y2="382.23" stroke="#6a6a6a" stroke-width="1.1"/>
<line x1="430.2" y1="382.11" x2="432.8" y2="382.11" stroke="#6a6a6a" stroke-width="1"/>
<rect x="438.8" y="380.05" width="7" height="31.15" fill="#000"/>
<line x1="442.3" y1="379.74" x2="442.3" y2="380.05" stroke="#6a6a6a" stroke-width="1.1"/>
<line x1="441" y1="380.24" x2="443.6" y2="380.24" stroke="#6a6a6a" stroke-width="1"/>
<rect x="449.3" y="407.15" width="7" height="4.05" fill="#000"/>
<line x1="452.8" y1="406.84" x2="452.8" y2="407.15" stroke="#6a6a6a" stroke-width="1.1"/>
<line x1="451.5" y1="407.34" x2="454.1" y2="407.34" stroke="#6a6a6a" stroke-width="1"/>
<rect x="460" y="380.36" width="7" height="30.84" fill="#000"/>
<line x1="463.5" y1="380.05" x2="463.5" y2="380.36" stroke="#6a6a6a" stroke-width="1.1"/>
<line x1="462.2" y1="380.55" x2="464.8" y2="380.55" stroke="#6a6a6a" stroke-width="1"/>
<line x1="409.5" y1="411.2" x2="409.5" y2="412.8" stroke="#999" stroke-width="0.8"/>
<line x1="420.5" y1="411.2" x2="420.5" y2="412.8" stroke="#999" stroke-width="0.8"/>
<line x1="431.5" y1="411.2" x2="431.5" y2="412.8" stroke="#999" stroke-width="0.8"/>
<line x1="442.5" y1="411.2" x2="442.5" y2="412.8" stroke="#999" stroke-width="0.8"/>
<line x1="452.5" y1="411.2" x2="452.5" y2="412.8" stroke="#999" stroke-width="0.8"/>
<line x1="463.5" y1="411.2" x2="463.5" y2="412.8" stroke="#999" stroke-width="0.8"/>
<rect x="406.3" y="442.61" width="7" height="38.19" fill="#000"/>
<line x1="409.8" y1="435.16" x2="409.8" y2="442.61" stroke="#6a6a6a" stroke-width="1.1"/>
<line x1="408.5" y1="435.66" x2="411.1" y2="435.66" stroke="#6a6a6a" stroke-width="1"/>
<rect x="416.9" y="470.86" width="7" height="9.94" fill="#000"/>
<line x1="420.4" y1="467.45" x2="420.4" y2="470.86" stroke="#6a6a6a" stroke-width="1.1"/>
<line x1="419.1" y1="467.95" x2="421.7" y2="467.95" stroke="#6a6a6a" stroke-width="1"/>
<rect x="428" y="445.09" width="7" height="35.71" fill="#000"/>
<line x1="431.5" y1="440.44" x2="431.5" y2="445.09" stroke="#6a6a6a" stroke-width="1.1"/>
<line x1="430.2" y1="440.94" x2="432.8" y2="440.94" stroke="#6a6a6a" stroke-width="1"/>
<rect x="438.8" y="450.99" width="7" height="29.81" fill="#000"/>
<line x1="442.3" y1="450.68" x2="442.3" y2="450.99" stroke="#6a6a6a" stroke-width="1.1"/>
<line x1="441" y1="451.18" x2="443.6" y2="451.18" stroke="#6a6a6a" stroke-width="1"/>
<rect x="449.3" y="475.83" width="7" height="4.97" fill="#000"/>
<line x1="452.8" y1="473.35" x2="452.8" y2="475.83" stroke="#6a6a6a" stroke-width="1.1"/>
<line x1="451.5" y1="473.85" x2="454.1" y2="473.85" stroke="#6a6a6a" stroke-width="1"/>
<rect x="460" y="456.58" width="7" height="24.22" fill="#000"/>
<line x1="463.5" y1="452.86" x2="463.5" y2="456.58" stroke="#6a6a6a" stroke-width="1.1"/>
<line x1="462.2" y1="453.36" x2="464.8" y2="453.36" stroke="#6a6a6a" stroke-width="1"/>
<line x1="409.5" y1="480.8" x2="409.5" y2="482.4" stroke="#999" stroke-width="0.8"/>
<line x1="420.5" y1="480.8" x2="420.5" y2="482.4" stroke="#999" stroke-width="0.8"/>
<line x1="431.5" y1="480.8" x2="431.5" y2="482.4" stroke="#999" stroke-width="0.8"/>
<line x1="442.5" y1="480.8" x2="442.5" y2="482.4" stroke="#999" stroke-width="0.8"/>
<line x1="452.5" y1="480.8" x2="452.5" y2="482.4" stroke="#999" stroke-width="0.8"/>
<line x1="463.5" y1="480.8" x2="463.5" y2="482.4" stroke="#999" stroke-width="0.8"/>
<line x1="421.2" y1="290.5" x2="431.2" y2="290.5" stroke="#666" stroke-width="1"/>
<line x1="421.5" y1="291" x2="421.5" y2="292.6" stroke="#666" stroke-width="0.9"/>
<line x1="431.5" y1="291" x2="431.5" y2="292.6" stroke="#666" stroke-width="0.9"/>
<circle cx="426.2" cy="286.8" r="1.55" fill="#111"/>
<line x1="453.8" y1="298.5" x2="463.8" y2="298.5" stroke="#666" stroke-width="1"/>
<line x1="453.5" y1="298.4" x2="453.5" y2="300" stroke="#666" stroke-width="0.9"/>
<line x1="463.5" y1="298.4" x2="463.5" y2="300" stroke="#666" stroke-width="0.9"/>
<circle cx="458.8" cy="294.2" r="1.55" fill="#111"/>
<line x1="421.2" y1="371.5" x2="431.2" y2="371.5" stroke="#666" stroke-width="1"/>
<line x1="421.5" y1="371.4" x2="421.5" y2="373" stroke="#666" stroke-width="0.9"/>
<line x1="431.5" y1="371.4" x2="431.5" y2="373" stroke="#666" stroke-width="0.9"/>
<circle cx="426.1" cy="367.2" r="1.55" fill="#111"/>
<line x1="453.3" y1="372.5" x2="463.3" y2="372.5" stroke="#666" stroke-width="1"/>
<line x1="453.5" y1="372.1" x2="453.5" y2="373.7" stroke="#666" stroke-width="0.9"/>
<line x1="463.5" y1="372.1" x2="463.5" y2="373.7" stroke="#666" stroke-width="0.9"/>
<circle cx="458.3" cy="367.9" r="1.55" fill="#111"/>
<line x1="421" y1="435.5" x2="431" y2="435.5" stroke="#666" stroke-width="1"/>
<line x1="420.5" y1="435.8" x2="420.5" y2="437.4" stroke="#666" stroke-width="0.9"/>
<line x1="430.5" y1="435.8" x2="430.5" y2="437.4" stroke="#666" stroke-width="0.9"/>
<circle cx="426" cy="431.6" r="1.55" fill="#111"/>
<line x1="453" y1="448.5" x2="463" y2="448.5" stroke="#666" stroke-width="1"/>
<line x1="452.5" y1="448.4" x2="452.5" y2="450" stroke="#666" stroke-width="0.9"/>
<line x1="462.5" y1="448.4" x2="462.5" y2="450" stroke="#666" stroke-width="0.9"/>
<circle cx="458" cy="444.2" r="1.55" fill="#111"/>
<rect x="406.9" y="487.6" width="28.8" height="10.1" fill="#888888" stroke="#454545" stroke-width="1.1"/>
<g filter="url(#bl)"><rect x="408.8" y="491.4" width="7" height="2.5" rx="1.6" ry="1.25" fill="#050505" fill-opacity="0.6"/><rect x="417.8" y="491.4" width="7" height="2.5" rx="1.6" ry="1.25" fill="#050505" fill-opacity="0.1"/><rect x="426.8" y="491.4" width="7" height="2.5" rx="1.6" ry="1.25" fill="#050505" fill-opacity="0.55"/></g>
<rect x="439.4" y="487.6" width="29.5" height="10.1" fill="#888888" stroke="#454545" stroke-width="1.1"/>
<g filter="url(#bl)"><rect x="441.42" y="491.4" width="7" height="2.5" rx="1.6" ry="1.25" fill="#050505" fill-opacity="0.7"/><rect x="450.65" y="491.4" width="7" height="2.5" rx="1.6" ry="1.25" fill="#050505" fill-opacity="0.05"/><rect x="459.88" y="491.4" width="7" height="2.5" rx="1.6" ry="1.25" fill="#050505" fill-opacity="0.55"/></g>
<rect x="406.9" y="500.6" width="28.8" height="9.6" fill="#888888" stroke="#454545" stroke-width="1.1"/>
<g filter="url(#bl)"><rect x="408.3" y="504" width="8" height="2.8" rx="1.6" ry="1.4" fill="#050505" fill-opacity="0.9"/><rect x="417.3" y="504" width="8" height="2.8" rx="1.6" ry="1.4" fill="#050505" fill-opacity="0.9"/><rect x="426.3" y="504" width="8" height="2.8" rx="1.6" ry="1.4" fill="#050505" fill-opacity="0.9"/></g>
<rect x="439.4" y="500.6" width="29.5" height="9.6" fill="#888888" stroke="#454545" stroke-width="1.1"/>
<g filter="url(#bl)"><rect x="440.92" y="504" width="8" height="2.8" rx="1.6" ry="1.4" fill="#050505" fill-opacity="0.9"/><rect x="450.15" y="504" width="8" height="2.8" rx="1.6" ry="1.4" fill="#050505" fill-opacity="0.9"/><rect x="459.38" y="504" width="8" height="2.8" rx="1.6" ry="1.4" fill="#050505" fill-opacity="0.9"/></g>
<text x="403.2" y="496.56" font-size="7.2" text-anchor="end" fill="#1a1a1a" font-weight="bold" stroke="#1a1a1a" stroke-width="0.32">GPX4</text>
<text x="403.4" y="508.16" font-size="7.2" text-anchor="end" fill="#1a1a1a" font-weight="bold" stroke="#1a1a1a" stroke-width="0.32">ACTB</text>
<text x="403.4" y="517.05" font-size="6.9" text-anchor="end" fill="#1a1a1a" font-weight="bold" stroke="#1a1a1a" stroke-width="0.32">Erastin</text>
<text x="404.8" y="524.18" font-size="6.7" text-anchor="end" fill="#1a1a1a" font-weight="bold" stroke="#1a1a1a" stroke-width="0.32">GPX4 cDNA</text>
<text x="413.3" y="517.86" font-size="7.2" text-anchor="middle" fill="#1a1a1a" font-weight="bold" stroke="#1a1a1a" stroke-width="0.32">-</text>
<text x="421.6" y="517.86" font-size="7.2" text-anchor="middle" fill="#1a1a1a" font-weight="bold" stroke="#1a1a1a" stroke-width="0.32">+</text>
<text x="431.3" y="517.86" font-size="7.2" text-anchor="middle" fill="#1a1a1a" font-weight="bold" stroke="#1a1a1a" stroke-width="0.32">+</text>
<text x="445.9" y="517.86" font-size="7.2" text-anchor="middle" fill="#1a1a1a" font-weight="bold" stroke="#1a1a1a" stroke-width="0.32">-</text>
<text x="454.8" y="517.86" font-size="7.2" text-anchor="middle" fill="#1a1a1a" font-weight="bold" stroke="#1a1a1a" stroke-width="0.32">+</text>
<text x="464.6" y="517.86" font-size="7.2" text-anchor="middle" fill="#1a1a1a" font-weight="bold" stroke="#1a1a1a" stroke-width="0.32">+</text>
<text x="414" y="525.16" font-size="7.2" text-anchor="middle" fill="#1a1a1a" font-weight="bold" stroke="#1a1a1a" stroke-width="0.32">-</text>
<text x="422.2" y="525.16" font-size="7.2" text-anchor="middle" fill="#1a1a1a" font-weight="bold" stroke="#1a1a1a" stroke-width="0.32">-</text>
<text x="431.2" y="525.16" font-size="7.2" text-anchor="middle" fill="#1a1a1a" font-weight="bold" stroke="#1a1a1a" stroke-width="0.32">+</text>
<text x="447" y="525.16" font-size="7.2" text-anchor="middle" fill="#1a1a1a" font-weight="bold" stroke="#1a1a1a" stroke-width="0.32">-</text>
<text x="455.4" y="525.16" font-size="7.2" text-anchor="middle" fill="#1a1a1a" font-weight="bold" stroke="#1a1a1a" stroke-width="0.32">-</text>
<text x="464.6" y="525.16" font-size="7.2" text-anchor="middle" fill="#1a1a1a" font-weight="bold" stroke="#1a1a1a" stroke-width="0.32">+</text>
<line x1="407" y1="527.5" x2="436.3" y2="527.5" stroke="#444" stroke-width="0.9"/>
<line x1="440" y1="527.5" x2="468.8" y2="527.5" stroke="#444" stroke-width="0.9"/>
<text transform="translate(420.9,530.6) rotate(-90)" x="0" y="2.61" font-size="7.35" text-anchor="end" fill="#1a1a1a" font-weight="bold" stroke="#1a1a1a" stroke-width="0.32">HSPA5 sh (1)</text>
<text transform="translate(454.7,530.6) rotate(-90)" x="0" y="2.59" font-size="7.3" text-anchor="end" fill="#1a1a1a" font-weight="bold" stroke="#1a1a1a" stroke-width="0.32">ATF4 sh (1)</text>
<g><line x1="486.5" y1="46.4" x2="507" y2="46.4" stroke="#333" stroke-width="0.9"/><circle cx="497" cy="46.3" r="2.8" fill="#000" stroke="#000" stroke-width="0.8"/><line x1="486.5" y1="72.2" x2="507" y2="72.2" stroke="#7fa3ad" stroke-width="0.9"/><circle cx="497" cy="72" r="2.8" fill="#e2312a" stroke="#333" stroke-width="0.8"/><line x1="486.5" y1="98.5" x2="507" y2="98.5" stroke="#6f8f5f" stroke-width="0.9"/><polygon points="494,96.25 500,96.25 497,101.35" fill="#8dc063" stroke="#2a3a1a" stroke-width="0.9"/><rect x="422.5" y="115" width="63" height="62.1" fill="none" stroke="#999" stroke-width="0.9"/><line x1="422.5" y1="115" x2="422.5" y2="177.1" stroke="#666" stroke-width="1"/><line x1="422.5" y1="177.1" x2="485.5" y2="177.1" stroke="#666" stroke-width="1"/><line x1="422.5" y1="177.1" x2="424" y2="177.1" stroke="#666" stroke-width="0.8"/><line x1="422.5" y1="166.68" x2="424" y2="166.68" stroke="#666" stroke-width="0.8"/><line x1="422.5" y1="156.26" x2="424" y2="156.26" stroke="#666" stroke-width="0.8"/><line x1="422.5" y1="145.84" x2="424" y2="145.84" stroke="#666" stroke-width="0.8"/><line x1="422.5" y1="135.42" x2="424" y2="135.42" stroke="#666" stroke-width="0.8"/><line x1="422.5" y1="125" x2="424" y2="125" stroke="#666" stroke-width="0.8"/><line x1="432.8" y1="177.1" x2="432.8" y2="178.8" stroke="#666" stroke-width="0.8"/><line x1="443.3" y1="177.1" x2="443.3" y2="178.8" stroke="#666" stroke-width="0.8"/><line x1="453.8" y1="177.1" x2="453.8" y2="178.8" stroke="#666" stroke-width="0.8"/><line x1="464.2" y1="177.1" x2="464.2" y2="178.8" stroke="#666" stroke-width="0.8"/><line x1="474.6" y1="177.1" x2="474.6" y2="178.8" stroke="#666" stroke-width="0.8"/><polyline points="432.8,125 443.3,122.92 453.8,127.6 464.2,159.91 474.6,169.28" fill="none" stroke="#5a5a5a" stroke-width="0.9"/><polyline points="432.8,125 443.3,134.9 453.8,158.87 464.2,170.33 474.6,175.02" fill="none" stroke="#5a5a5a" stroke-width="0.9"/><polyline points="432.8,125 443.3,122.92 453.8,123.96 464.2,126.04 474.6,124.48" fill="none" stroke="#5a5a5a" stroke-width="0.9"/><circle cx="432.8" cy="125" r="2.8" fill="#e2312a" stroke="#333" stroke-width="0.8"/><circle cx="443.3" cy="134.9" r="2.8" fill="#e2312a" stroke="#333" stroke-width="0.8"/><circle cx="453.8" cy="158.87" r="2.8" fill="#e2312a" stroke="#333" stroke-width="0.8"/><circle cx="464.2" cy="170.33" r="2.8" fill="#e2312a" stroke="#333" stroke-width="0.8"/><circle cx="474.6" cy="175.02" r="2.8" fill="#e2312a" stroke="#333" stroke-width="0.8"/><circle cx="432.8" cy="125" r="2.8" fill="#000" stroke="#000" stroke-width="0.8"/><circle cx="443.3" cy="122.92" r="2.8" fill="#000" stroke="#000" stroke-width="0.8"/><circle cx="453.8" cy="127.6" r="2.8" fill="#000" stroke="#000" stroke-width="0.8"/><circle cx="464.2" cy="159.91" r="2.8" fill="#000" stroke="#000" stroke-width="0.8"/><circle cx="474.6" cy="169.28" r="2.8" fill="#000" stroke="#000" stroke-width="0.8"/><polygon points="429.8,122.75 435.8,122.75 432.8,127.85" fill="#8dc063" stroke="#2a3a1a" stroke-width="0.9"/><polygon points="440.3,120.67 446.3,120.67 443.3,125.77" fill="#8dc063" stroke="#2a3a1a" stroke-width="0.9"/><polygon points="450.8,121.71 456.8,121.71 453.8,126.81" fill="#8dc063" stroke="#2a3a1a" stroke-width="0.9"/><polygon points="461.2,123.79 467.2,123.79 464.2,128.89" fill="#8dc063" stroke="#2a3a1a" stroke-width="0.9"/><polygon points="471.6,122.23 477.6,122.23 474.6,127.33" fill="#8dc063" stroke="#2a3a1a" stroke-width="0.9"/></g>
</svg></body></html>
